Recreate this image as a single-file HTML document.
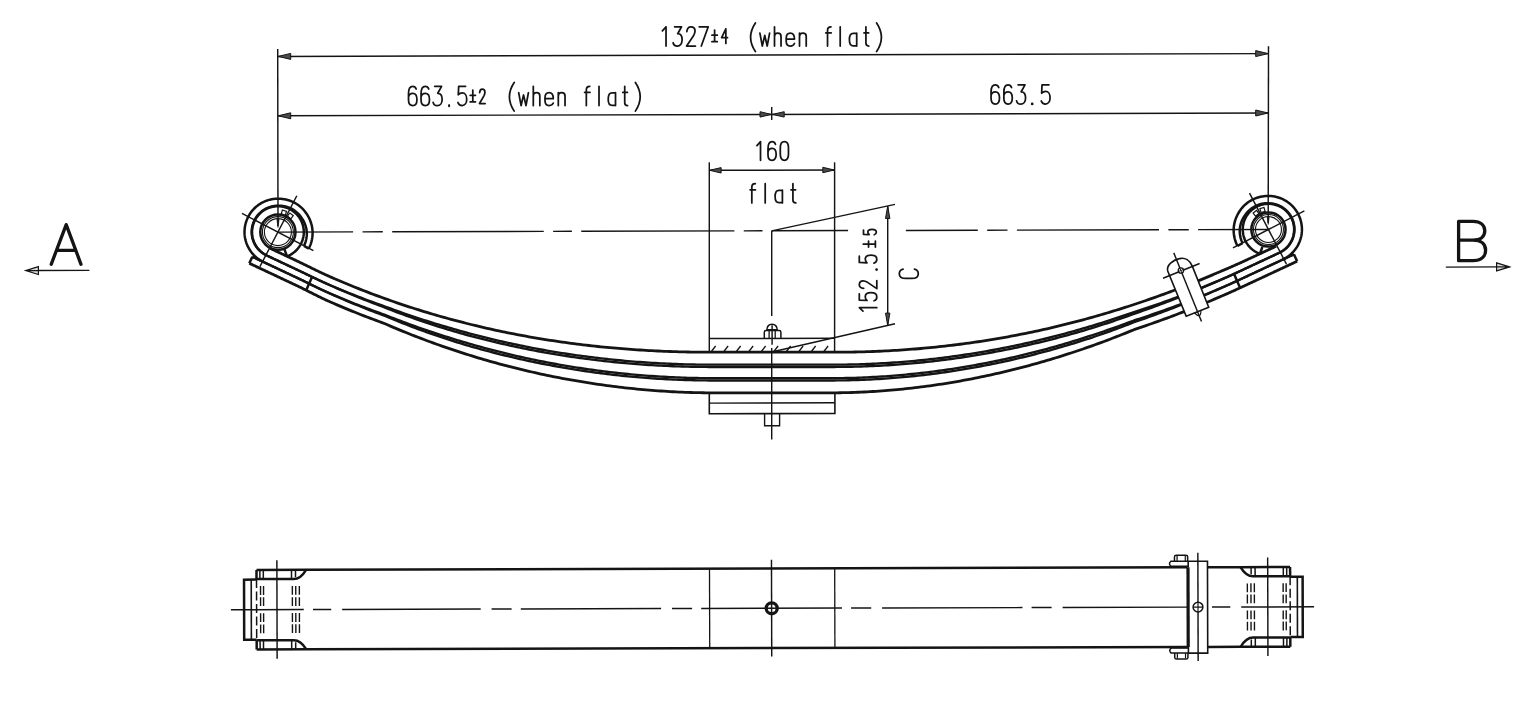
<!DOCTYPE html>
<html lang="en"><head><meta charset="utf-8"><title>Leaf spring drawing</title>
<style>
html,body{margin:0;padding:0;background:#fff;font-family:"Liberation Sans",sans-serif;}
body{width:1536px;height:705px;overflow:hidden;}
svg{display:block;}
</style></head><body>
<svg width="1536" height="705" viewBox="0 0 1536 705" shape-rendering="geometricPrecision">
<rect width="1536" height="705" fill="#ffffff"/>
<g stroke="#141414" fill="none">
<circle cx="277.9" cy="232.1" r="15.5" stroke-width="1.1" fill="none"/>
<circle cx="277.9" cy="232.1" r="13.5" stroke-width="1.1" fill="none"/>
<circle cx="277.9" cy="232.1" r="17.6" stroke-width="2.5" fill="none"/>
<path d="M266.87 255.54 L265.27 254.71 L263.74 253.78 L262.27 252.75 L260.87 251.62 L259.56 250.39 L258.34 249.07 L257.21 247.68 L256.18 246.21 L255.25 244.67 L254.44 243.07 L253.73 241.41 L253.14 239.72 L252.68 237.98 L252.33 236.22 L252.11 234.44 L252.01 232.64 L252.03 230.85 L252.18 229.06 L252.45 227.28 L252.85 225.53 L253.36 223.81 L254 222.13 L254.75 220.49 L255.61 218.92 L256.57 217.4 L257.64 215.96 L258.81 214.59 L260.07 213.31 L261.42 212.12 L262.84 211.03 L264.34 210.03 L265.9 209.15 L267.52 208.37 L269.19 207.71 L270.9 207.16 L272.65 206.74 L274.42 206.44 L276.21 206.26 L278 206.2 L279.8 206.27 L281.58 206.46 L283.35 206.78 L285.09 207.22 L286.8 207.78 L288.47 208.45 L290.08 209.24 L291.63 210.14 L293.12 211.15 L294.54 212.25 L295.88 213.45 L297.12 214.74 L298.28 216.12 L299.34 217.57 L300.3 219.09 L301.14 220.68 L301.88 222.31 L302.5 224 L303 225.72 L303.38 227.48 L303.64 229.26 L303.78 231.05 L303.79 232.85 L303.68 234.64 L303.44 236.42 L303.08 238.18 L302.59 239.91 L301.99 241.6 L301.28 243.25 L300.45 244.84 L299.51 246.38 L298.47 247.84 L297.33 249.23 L296.09 250.53 L294.77 251.75 L293.37 252.87 L291.89 253.9 L290.35 254.81 L288.74 255.62 L287.09 256.32" stroke-width="2.5" fill="none"/>
<path d="M284.28 248.93 L287.09 256.32" stroke-width="2.5" fill="none"/>
<path d="M266.87 255.54 L265.63 254.92 L264.42 254.25 L263.24 253.51 L262.11 252.7 L261.02 251.84 L259.98 250.92 L258.99 249.95 L258.05 248.92 L257.17 247.84 L256.35 246.72 L255.59 245.55 L254.89 244.35 L254.25 243.1 L253.68 241.83 L253.18 240.52 L252.75 239.2 L252.4 237.84 L252.11 236.47 L251.9 235.09 L251.76 233.7 L251.7 232.3 L251.72 230.9 L251.82 229.5 L251.99 228.11 L252.23 226.72 L252.55 225.36 L252.94 224.01 L253.4 222.68 L253.93 221.38 L254.53 220.11 L255.2 218.88 L255.94 217.68 L256.73 216.52 L257.59 215.41 L258.51 214.34 L259.48 213.33 L260.51 212.36 L261.58 211.46 L262.71 210.61 L263.87 209.82 L265.08 209.1 L266.33 208.44 L267.61 207.85 L268.91 207.32 L270.25 206.87 L271.61 206.49 L272.99 206.19 L274.38 205.95 L275.78 205.8 L277.19 205.71 L278.6 205.68 L280.02 205.69 L281.44 205.77 L282.85 205.93 L284.26 206.17 L285.66 206.48 L287.04 206.87 L288.4 207.34 L289.74 207.87 L291.05 208.48 L292.33 209.16 L293.57 209.91 L294.78 210.73 L295.94 211.62 L297.06 212.56 L298.12 213.57 L299.14 214.64 L300.09 215.76 L300.99 216.93 L301.83 218.15 L302.64 219.4 L303.4 220.69 L304.09 222.03 L304.71 223.4 L305.25 224.82 L305.72 226.26 L306.11 227.74 L306.43 229.24 L306.66 230.77 L306.81 232.31 L306.82 233.86 L306.75 235.41 L306.6 236.96 L306.36 238.5 L306.04 240.03 L305.64 241.55 L305.16 243.04 L304.59 244.51 L303.95 245.95" stroke-width="2.5" fill="none"/>
<path d="M263.76 262.14 L262.17 261.35 L260.63 260.48 L259.13 259.52 L257.68 258.48 L256.3 257.37 L254.97 256.19 L253.71 254.93 L252.51 253.61 L251.39 252.23 L250.35 250.79 L249.38 249.29 L248.49 247.75 L247.69 246.16 L246.97 244.53 L246.34 242.86 L245.8 241.16 L245.35 239.43 L245 237.68 L244.74 235.91 L244.57 234.14 L244.5 232.35 L244.54 230.57 L244.67 228.78 L244.89 227.01 L245.21 225.25 L245.62 223.51 L246.13 221.8 L246.72 220.12 L247.41 218.47 L248.18 216.86 L249.04 215.29 L249.98 213.77 L251 212.3 L252.1 210.89 L253.27 209.54 L254.51 208.26 L255.82 207.04 L257.19 205.9 L258.62 204.83 L260.11 203.84 L261.64 202.92 L263.23 202.1 L264.85 201.35 L266.51 200.7 L268.21 200.14 L269.93 199.66 L271.68 199.28 L273.44 199 L275.22 198.81 L277 198.71 L278.79 198.69 L280.58 198.75 L282.36 198.91 L284.14 199.16 L285.9 199.51 L287.64 199.95 L289.36 200.48 L291.04 201.1 L292.7 201.82 L294.31 202.62 L295.89 203.51 L297.41 204.49 L298.88 205.54 L300.29 206.67 L301.65 207.88 L302.93 209.16 L304.15 210.51 L305.3 211.92 L306.37 213.4 L307.36 214.93 L308.29 216.5 L309.13 218.12 L309.89 219.79 L310.56 221.5 L311.14 223.25 L311.63 225.02 L312.02 226.83 L312.31 228.65 L312.51 230.5 L312.6 232.35 L312.57 234.21 L312.44 236.06 L312.21 237.91 L311.89 239.74 L311.46 241.56 L310.94 243.35 L310.32 245.11 L309.61 246.84 L308.8 248.53" stroke-width="2.5" fill="none"/>
<path d="M303.95 245.95 L308.8 248.53" stroke-width="2.5" fill="none"/>
<line x1="241.98" y1="213.4" x2="313.38" y2="250.57" stroke-width="1.45" stroke-linecap="butt"/>
<line x1="296.83" y1="195.73" x2="259.89" y2="266.69" stroke-width="1.45" stroke-linecap="butt"/>
<rect x="281.71" y="210.59" width="4.3" height="4.0" stroke-width="1.2" fill="none" transform="rotate(17 283.86 212.59)"/>
<rect x="288.17" y="213.92" width="4.3" height="4.0" stroke-width="1.2" fill="none" transform="rotate(37.5 290.32 215.92)"/>
<path d="M252.36 256.78 L249.3 263.29" stroke-width="2.5" fill="none"/>
<path d="M312.03 277 L305.88 291.02" stroke-width="2.5" fill="none"/>
<circle cx="1268.45" cy="229.5" r="15" stroke-width="1.1" fill="none"/>
<circle cx="1268.45" cy="229.5" r="13" stroke-width="1.1" fill="none"/>
<circle cx="1268.45" cy="229.5" r="17.1" stroke-width="2.5" fill="none"/>
<path d="M1279.31 252.79 L1280.91 251.98 L1282.44 251.06 L1283.91 250.03 L1285.31 248.9 L1286.62 247.68 L1287.84 246.37 L1288.97 244.98 L1290 243.51 L1290.92 241.97 L1291.74 240.38 L1292.44 238.73 L1293.02 237.03 L1293.49 235.3 L1293.83 233.54 L1294.05 231.76 L1294.15 229.97 L1294.12 228.18 L1293.96 226.4 L1293.68 224.63 L1293.28 222.88 L1292.76 221.16 L1292.12 219.49 L1291.37 217.86 L1290.5 216.3 L1289.52 214.79 L1288.45 213.36 L1287.27 212 L1286.01 210.73 L1284.66 209.56 L1283.23 208.48 L1281.73 207.5 L1280.16 206.62 L1278.54 205.86 L1276.87 205.22 L1275.16 204.69 L1273.41 204.28 L1271.64 204 L1269.86 203.84 L1268.06 203.8 L1266.27 203.89 L1264.49 204.11 L1262.73 204.44 L1261 204.9 L1259.3 205.48 L1257.65 206.18 L1256.05 206.99 L1254.52 207.91 L1253.04 208.93 L1251.65 210.05 L1250.33 211.27 L1249.11 212.58 L1247.97 213.97 L1246.94 215.43 L1246.01 216.97 L1245.19 218.56 L1244.49 220.21 L1243.9 221.9 L1243.43 223.63 L1243.08 225.39 L1242.86 227.17 L1242.76 228.95 L1242.78 230.75 L1242.93 232.53 L1243.2 234.3 L1243.6 236.05 L1244.12 237.77 L1244.75 239.44 L1245.5 241.07 L1246.36 242.64 L1247.33 244.15 L1248.41 245.59 L1249.58 246.94 L1250.84 248.22 L1252.19 249.4 L1253.61 250.48 L1255.11 251.47 L1256.67 252.34 L1258.29 253.11 L1259.96 253.76" stroke-width="2.5" fill="none"/>
<path d="M1262.38 246.87 L1259.96 253.76" stroke-width="2.5" fill="none"/>
<path d="M1279.31 252.79 L1280.55 252.19 L1281.75 251.52 L1282.92 250.79 L1284.05 250 L1285.13 249.14 L1286.17 248.23 L1287.16 247.27 L1288.09 246.25 L1288.97 245.18 L1289.79 244.07 L1290.55 242.92 L1291.25 241.72 L1291.89 240.49 L1292.45 239.23 L1292.95 237.93 L1293.38 236.61 L1293.74 235.27 L1294.03 233.91 L1294.24 232.54 L1294.38 231.15 L1294.45 229.77 L1294.43 228.37 L1294.34 226.98 L1294.18 225.6 L1293.94 224.23 L1293.62 222.87 L1293.24 221.53 L1292.78 220.21 L1292.26 218.92 L1291.67 217.66 L1291 216.43 L1290.28 215.24 L1289.49 214.09 L1288.64 212.98 L1287.73 211.92 L1286.77 210.91 L1285.75 209.95 L1284.68 209.04 L1283.57 208.2 L1282.41 207.42 L1281.21 206.69 L1279.98 206.04 L1278.71 205.45 L1277.41 204.93 L1276.08 204.48 L1274.74 204.1 L1273.37 203.79 L1271.99 203.56 L1270.59 203.4 L1269.19 203.31 L1267.79 203.28 L1266.38 203.28 L1264.98 203.37 L1263.57 203.52 L1262.17 203.76 L1260.78 204.07 L1259.41 204.45 L1258.06 204.91 L1256.73 205.44 L1255.42 206.04 L1254.15 206.72 L1252.92 207.46 L1251.72 208.27 L1250.56 209.15 L1249.45 210.09 L1248.39 211.09 L1247.38 212.14 L1246.43 213.26 L1245.54 214.42 L1244.71 215.64 L1243.89 216.87 L1243.14 218.15 L1242.46 219.48 L1241.84 220.85 L1241.3 222.25 L1240.83 223.69 L1240.44 225.16 L1240.12 226.65 L1239.89 228.17 L1239.74 229.7 L1239.73 231.24 L1239.8 232.78 L1239.95 234.32 L1240.18 235.85 L1240.5 237.37 L1240.9 238.88 L1241.38 240.36 L1241.94 241.82 L1242.58 243.26" stroke-width="2.5" fill="none"/>
<path d="M1282.52 259.68 L1284.12 258.89 L1285.68 258.02 L1287.18 257.06 L1288.64 256.03 L1290.04 254.92 L1291.37 253.73 L1292.64 252.48 L1293.84 251.16 L1294.97 249.77 L1296.03 248.33 L1297 246.83 L1297.9 245.28 L1298.71 243.69 L1299.44 242.05 L1300.07 240.38 L1300.62 238.68 L1301.07 236.94 L1301.43 235.19 L1301.7 233.42 L1301.87 231.63 L1301.95 229.84 L1301.92 228.05 L1301.79 226.26 L1301.57 224.48 L1301.26 222.71 L1300.85 220.97 L1300.34 219.25 L1299.75 217.56 L1299.06 215.9 L1298.29 214.28 L1297.44 212.7 L1296.5 211.18 L1295.47 209.7 L1294.38 208.29 L1293.2 206.93 L1291.96 205.64 L1290.65 204.41 L1289.28 203.26 L1287.84 202.18 L1286.35 201.18 L1284.81 200.27 L1283.22 199.43 L1281.59 198.69 L1279.93 198.03 L1278.23 197.46 L1276.5 196.98 L1274.75 196.6 L1272.98 196.31 L1271.19 196.11 L1269.4 196.01 L1267.61 195.99 L1265.81 196.05 L1264.02 196.2 L1262.24 196.45 L1260.47 196.8 L1258.72 197.24 L1257 197.77 L1255.3 198.4 L1253.64 199.11 L1252.02 199.92 L1250.44 200.81 L1248.91 201.78 L1247.44 202.84 L1246.02 203.98 L1244.66 205.19 L1243.36 206.47 L1242.14 207.82 L1240.99 209.24 L1239.91 210.72 L1238.92 212.26 L1237.99 213.83 L1237.14 215.46 L1236.37 217.14 L1235.7 218.85 L1235.12 220.6 L1234.63 222.39 L1234.23 224.2 L1233.94 226.03 L1233.74 227.88 L1233.65 229.74 L1233.68 231.6 L1233.81 233.46 L1234.04 235.32 L1234.36 237.16 L1234.79 238.98 L1235.32 240.78 L1235.94 242.55 L1236.65 244.28 L1237.46 245.98" stroke-width="2.5" fill="none"/>
<path d="M1242.58 243.26 L1237.46 245.98" stroke-width="2.5" fill="none"/>
<line x1="1304.37" y1="210.8" x2="1232.97" y2="247.97" stroke-width="1.45" stroke-linecap="butt"/>
<line x1="1249.52" y1="193.13" x2="1286.46" y2="264.09" stroke-width="1.45" stroke-linecap="butt"/>
<rect x="1260.34" y="207.99" width="4.3" height="4.0" stroke-width="1.2" fill="none" transform="rotate(-17 1262.49 209.99)"/>
<rect x="1253.88" y="211.32" width="4.3" height="4.0" stroke-width="1.2" fill="none" transform="rotate(-37.5 1256.03 213.32)"/>
<path d="M1293.94 254.36 L1297.15 261.24" stroke-width="2.5" fill="none"/>
<path d="M1234.08 274.1 L1240.48 288.77" stroke-width="2.5" fill="none"/>
<path d="M270.24 248.39 L271.14 248.81 L272.05 249.24 L272.95 249.66 L273.86 250.09 L274.76 250.52 L275.66 250.94 L276.57 251.37 L277.47 251.79 L278.38 252.22 L279.28 252.64 L280.19 253.07 L281.09 253.5 L282 253.92 L282.9 254.35 L283.81 254.77 L284.71 255.2 L285.62 255.63 L286.52 256.05 L287.43 256.48 L288.33 256.9 L289.24 257.33 L290.14 257.75 L291.05 258.18 L291.95 258.61 L292.86 259.03 L293.76 259.46 L294.67 259.88 L295.57 260.31 L296.48 260.73 L297.38 261.16 L298.29 261.59 L299.19 262.02 L300.1 262.46 L301 262.89 L301.9 263.33 L302.81 263.76 L303.71 264.2 L304.62 264.64 L305.52 265.09 L306.43 265.53 L307.33 265.98 L308.24 266.42 L309.14 266.87 L310.05 267.31 L310.95 267.76 L311.86 268.2 L312.76 268.65 L313.67 269.09 L314.57 269.53 L315.48 269.97 L316.38 270.41 L317.29 270.85 L318.19 271.28 L319.1 271.72 L320 272.15 L320.91 272.57 L321.81 273 L322.72 273.42 L323.62 273.84 L324.53 274.25 L325.43 274.67 L326.34 275.08 L327.24 275.48 L328.14 275.89 L329.05 276.29 L329.95 276.69 L331 277.14 L334 278.45 L337 279.74 L340 281.02 L343 282.29 L346 283.54 L349 284.78 L352 286 L355 287.21 L358 288.41 L361 289.6 L364 290.77 L367 291.93 L370 293.07 L373 294.21 L376 295.33 L379 296.43 L382 297.53 L385 298.61 L388 299.68 L391 300.74 L394 301.78 L397 302.81 L400 303.83 L403 304.84 L406 305.83 L409 306.82 L412 307.79 L415 308.75 L418 309.69 L421 310.63 L424 311.55 L427 312.46 L430 313.36 L433 314.25 L436 315.12 L439 315.98 L442 316.84 L445 317.68 L448 318.51 L451 319.32 L454 320.13 L457 320.93 L460 321.71 L463 322.48 L466 323.25 L469 324 L472 324.74 L475 325.46 L478 326.18 L481 326.89 L484 327.59 L487 328.27 L490 328.95 L493 329.61 L496 330.26 L499 330.91 L502 331.54 L505 332.16 L508 332.77 L511 333.37 L514 333.96 L517 334.54 L520 335.11 L523 335.67 L526 336.22 L529 336.76 L532 337.29 L535 337.81 L538 338.32 L541 338.82 L544 339.31 L547 339.79 L550 340.26 L553 340.72 L556 341.17 L559 341.61 L562 342.05 L565 342.47 L568 342.88 L571 343.28 L574 343.68 L577 344.06 L580 344.44 L583 344.8 L586 345.16 L589 345.5 L592 345.84 L595 346.17 L598 346.49 L601 346.8 L604 347.1 L607 347.39 L610 347.68 L613 347.95 L616 348.22 L619 348.47 L622 348.72 L625 348.96 L628 349.19 L631 349.41 L634 349.62 L637 349.83 L640 350.02 L643 350.21 L646 350.39 L649 350.56 L652 350.72 L655 350.87 L658 351.02 L661 351.15 L664 351.28 L667 351.4 L670 351.51 L673 351.61 L676 351.7 L679 351.79 L682 351.87 L685 351.94 L688 352 L691 352.05 L694 352.1 L697 352.13 L700 352.16 L703 352.18 L706 352.2 L709 352.2 L712 352.2 L715 352.2 L718 352.2 L721 352.2 L724 352.2 L727 352.2 L730 352.2 L733 352.2 L736 352.2 L739 352.2 L742 352.2 L745 352.2 L748 352.2 L751 352.2 L754 352.2 L757 352.2 L760 352.2 L763 352.2 L766 352.2 L769 352.2 L772 352.2 L771 352.2 L774 352.2 L777 352.2 L780 352.2 L783 352.2 L786 352.2 L789 352.2 L792 352.2 L795 352.2 L798 352.2 L801 352.2 L804 352.2 L807 352.2 L810 352.2 L813 352.2 L816 352.2 L819 352.2 L822 352.2 L825 352.2 L828 352.2 L831 352.2 L834 352.2 L837 352.2 L840 352.19 L843 352.17 L846 352.14 L849 352.1 L852 352.05 L855 352 L858 351.93 L861 351.86 L864 351.78 L867 351.69 L870 351.59 L873 351.48 L876 351.36 L879 351.23 L882 351.1 L885 350.95 L888 350.8 L891 350.63 L894 350.46 L897 350.28 L900 350.08 L903 349.88 L906 349.67 L909 349.45 L912 349.22 L915 348.98 L918 348.73 L921 348.48 L924 348.21 L927 347.93 L930 347.65 L933 347.35 L936 347.04 L939 346.73 L942 346.4 L945 346.07 L948 345.73 L951 345.37 L954 345.01 L957 344.63 L960 344.25 L963 343.86 L966 343.45 L969 343.04 L972 342.62 L975 342.18 L978 341.74 L981 341.29 L984 340.83 L987 340.35 L990 339.87 L993 339.38 L996 338.87 L999 338.36 L1002 337.84 L1005 337.3 L1008 336.76 L1011 336.21 L1014 335.64 L1017 335.07 L1020 334.48 L1023 333.89 L1026 333.29 L1029 332.67 L1032 332.04 L1035 331.41 L1038 330.76 L1041 330.11 L1044 329.44 L1047 328.76 L1050 328.07 L1053 327.38 L1056 326.67 L1059 325.95 L1062 325.22 L1065 324.48 L1068 323.73 L1071 322.97 L1074 322.2 L1077 321.41 L1080 320.62 L1083 319.82 L1086 319 L1089 318.18 L1092 317.34 L1095 316.5 L1098 315.64 L1101 314.77 L1104 313.9 L1107 313.01 L1110 312.11 L1113 311.2 L1116 310.28 L1119 309.35 L1122 308.4 L1125 307.45 L1128 306.49 L1131 305.51 L1134 304.53 L1137 303.53 L1140 302.52 L1143 301.51 L1146 300.48 L1149 299.44 L1152 298.39 L1155 297.33 L1158 296.25 L1161 295.17 L1164 294.08 L1167 292.97 L1170 291.86 L1173 290.73 L1176 289.59 L1179 288.45 L1182 287.29 L1185 286.12 L1188 284.94 L1191 283.74 L1194 282.54 L1197 281.33 L1200 280.1 L1203 278.86 L1206 277.62 L1209 276.36 L1212 275.09 L1215 273.81 L1216.41 273.21 L1217.32 272.82 L1218.22 272.43 L1219.13 272.05 L1220.04 271.67 L1220.94 271.28 L1221.85 270.9 L1222.75 270.52 L1223.66 270.14 L1224.57 269.75 L1225.47 269.37 L1226.38 268.98 L1227.29 268.59 L1228.19 268.21 L1229.1 267.81 L1230 267.42 L1230.91 267.03 L1231.82 266.63 L1232.72 266.24 L1233.63 265.84 L1234.54 265.44 L1235.44 265.04 L1236.35 264.63 L1237.25 264.23 L1238.16 263.82 L1239.07 263.42 L1239.97 263.01 L1240.88 262.6 L1241.79 262.19 L1242.69 261.77 L1243.6 261.36 L1244.51 260.94 L1245.41 260.53 L1246.32 260.11 L1247.22 259.69 L1248.13 259.27 L1249.04 258.85 L1249.94 258.43 L1250.85 258.01 L1251.76 257.59 L1252.66 257.16 L1253.57 256.74 L1254.47 256.32 L1255.38 255.9 L1256.29 255.47 L1257.19 255.05 L1258.1 254.63 L1259.01 254.21 L1259.91 253.78 L1260.82 253.36 L1261.73 252.94 L1262.63 252.52 L1263.54 252.09 L1264.44 251.67 L1265.35 251.25 L1266.26 250.82 L1267.16 250.4 L1268.07 249.98 L1268.98 249.56 L1269.88 249.13 L1270.79 248.71 L1271.69 248.29 L1272.6 247.87 L1273.51 247.44 L1274.41 247.02 L1275.32 246.6 L1276.23 246.18" stroke-width="2.8" fill="none" stroke-linejoin="round"/>
<path d="M266.87 255.54 L267.78 255.96 L268.68 256.39 L269.59 256.81 L270.49 257.24 L271.4 257.66 L272.3 258.09 L273.21 258.52 L274.11 258.94 L275.02 259.37 L275.92 259.79 L276.83 260.22 L277.73 260.64 L278.64 261.07 L279.54 261.5 L280.44 261.92 L281.35 262.35 L282.25 262.77 L283.16 263.2 L284.06 263.62 L284.97 264.05 L285.87 264.48 L286.78 264.9 L287.68 265.33 L288.59 265.75 L289.49 266.18 L290.4 266.61 L291.3 267.03 L292.21 267.46 L293.11 267.88 L294.02 268.31 L294.92 268.73 L295.83 269.16 L296.73 269.59 L297.64 270.01 L298.54 270.44 L299.45 270.87 L300.35 271.3 L301.26 271.73 L302.16 272.16 L303.07 272.59 L303.97 273.02 L304.88 273.45 L305.78 273.88 L306.68 274.32 L307.59 274.75 L308.49 275.18 L309.4 275.62 L310.3 276.05 L311.21 276.48 L312.11 276.91 L313.02 277.34 L313.92 277.77 L314.83 278.2 L315.73 278.63 L316.64 279.05 L317.54 279.47 L318.45 279.89 L319.35 280.31 L320.26 280.73 L321.16 281.14 L322.07 281.55 L322.97 281.96 L323.88 282.37 L324.78 282.77 L325.69 283.17 L326.59 283.57 L327.5 283.97 L328.4 284.37 L329.31 284.76 L331 285.49 L334 286.78 L337 288.05 L340 289.31 L343 290.55 L346 291.78 L349 293 L352 294.19 L355 295.38 L358 296.55 L361 297.71 L364 298.85 L367 299.98 L370 301.1 L373 302.2 L376 303.29 L379 304.37 L382 305.43 L385 306.5 L388 307.62 L391 308.72 L394 309.81 L397 310.88 L400 311.95 L403 313 L406 314.04 L409 315.07 L412 316.08 L415 317.08 L418 318.08 L421 319.06 L424 320.02 L427 320.98 L430 321.93 L433 322.86 L436 323.79 L439 324.7 L442 325.6 L445 326.5 L448 327.38 L451 328.25 L454 329.11 L457 329.96 L460 330.8 L463 331.63 L466 332.46 L469 333.27 L472 334.07 L475 334.86 L478 335.64 L481 336.41 L484 337.17 L487 337.92 L490 338.65 L493 339.37 L496 340.09 L499 340.79 L502 341.48 L505 342.16 L508 342.83 L511 343.49 L514 344.13 L517 344.77 L520 345.39 L523 346.01 L526 346.61 L529 347.21 L532 347.79 L535 348.36 L538 348.92 L541 349.47 L544 350.02 L547 350.55 L550 351.07 L553 351.58 L556 352.08 L559 352.56 L562 353.04 L565 353.51 L568 353.97 L571 354.42 L574 354.86 L577 355.29 L580 355.71 L583 356.12 L586 356.52 L589 356.9 L592 357.28 L595 357.65 L598 358.01 L601 358.36 L604 358.7 L607 359.03 L610 359.36 L613 359.67 L616 359.97 L619 360.26 L622 360.54 L625 360.82 L628 361.08 L631 361.33 L634 361.58 L637 361.81 L640 362.04 L643 362.26 L646 362.46 L649 362.66 L652 362.85 L655 363.03 L658 363.2 L661 363.36 L664 363.51 L667 363.65 L670 363.78 L673 363.91 L676 364.02 L679 364.12 L682 364.22 L685 364.31 L688 364.38 L691 364.45 L694 364.51 L697 364.56 L700 364.59 L703 364.62 L706 364.64 L709 364.65 L712 364.65 L715 364.65 L718 364.65 L721 364.65 L724 364.65 L727 364.65 L730 364.65 L733 364.65 L736 364.65 L739 364.65 L742 364.65 L745 364.65 L748 364.65 L751 364.65 L754 364.65 L757 364.65 L760 364.65 L763 364.65 L766 364.65 L769 364.65 L772 364.65 L771 364.65 L774 364.65 L777 364.65 L780 364.65 L783 364.65 L786 364.65 L789 364.65 L792 364.65 L795 364.65 L798 364.65 L801 364.65 L804 364.65 L807 364.65 L810 364.65 L813 364.65 L816 364.65 L819 364.65 L822 364.65 L825 364.65 L828 364.65 L831 364.65 L834 364.65 L837 364.64 L840 364.63 L843 364.6 L846 364.56 L849 364.51 L852 364.45 L855 364.38 L858 364.3 L861 364.2 L864 364.1 L867 363.99 L870 363.87 L873 363.74 L876 363.59 L879 363.44 L882 363.28 L885 363.1 L888 362.92 L891 362.73 L894 362.52 L897 362.31 L900 362.08 L903 361.85 L906 361.6 L909 361.35 L912 361.08 L915 360.81 L918 360.52 L921 360.22 L924 359.92 L927 359.6 L930 359.27 L933 358.94 L936 358.59 L939 358.23 L942 357.86 L945 357.48 L948 357.09 L951 356.69 L954 356.28 L957 355.86 L960 355.42 L963 354.98 L966 354.53 L969 354.07 L972 353.59 L975 353.11 L978 352.61 L981 352.1 L984 351.59 L987 351.06 L990 350.52 L993 349.97 L996 349.41 L999 348.84 L1002 348.26 L1005 347.67 L1008 347.07 L1011 346.46 L1014 345.83 L1017 345.2 L1020 344.55 L1023 343.89 L1026 343.23 L1029 342.55 L1032 341.86 L1035 341.16 L1038 340.45 L1041 339.72 L1044 338.99 L1047 338.25 L1050 337.49 L1053 336.73 L1056 335.95 L1059 335.16 L1062 334.36 L1065 333.55 L1068 332.73 L1071 331.9 L1074 331.06 L1077 330.2 L1080 329.34 L1083 328.46 L1086 327.58 L1089 326.68 L1092 325.78 L1095 324.87 L1098 323.94 L1101 323.01 L1104 322.07 L1107 321.12 L1110 320.16 L1113 319.19 L1116 318.21 L1119 317.22 L1122 316.22 L1125 315.21 L1128 314.19 L1131 313.16 L1134 312.12 L1137 311.13 L1140 310.15 L1143 309.16 L1146 308.16 L1149 307.15 L1152 306.13 L1155 305.1 L1158 304.06 L1161 303.01 L1164 301.94 L1167 300.87 L1170 299.78 L1173 298.69 L1176 297.58 L1179 296.46 L1182 295.33 L1185 294.19 L1188 293.04 L1191 291.87 L1194 290.7 L1197 289.51 L1200 288.31 L1203 287.1 L1206 285.88 L1209 284.64 L1212 283.39 L1215 282.13 L1216.78 281.38 L1217.68 281 L1218.59 280.62 L1219.49 280.24 L1220.4 279.85 L1221.31 279.47 L1222.21 279.08 L1223.12 278.69 L1224.03 278.3 L1224.93 277.91 L1225.84 277.52 L1226.75 277.12 L1227.65 276.73 L1228.56 276.33 L1229.46 275.92 L1230.37 275.52 L1231.28 275.11 L1232.18 274.71 L1233.09 274.3 L1234 273.88 L1234.9 273.47 L1235.81 273.06 L1236.71 272.64 L1237.62 272.22 L1238.53 271.8 L1239.43 271.38 L1240.34 270.96 L1241.25 270.54 L1242.15 270.12 L1243.06 269.7 L1243.97 269.28 L1244.87 268.85 L1245.78 268.43 L1246.68 268.01 L1247.59 267.58 L1248.5 267.16 L1249.4 266.74 L1250.31 266.32 L1251.22 265.89 L1252.12 265.47 L1253.03 265.05 L1253.93 264.63 L1254.84 264.2 L1255.75 263.78 L1256.65 263.36 L1257.56 262.93 L1258.47 262.51 L1259.37 262.09 L1260.28 261.67 L1261.19 261.24 L1262.09 260.82 L1263 260.4 L1263.9 259.98 L1264.81 259.55 L1265.72 259.13 L1266.62 258.71 L1267.53 258.29 L1268.44 257.86 L1269.34 257.44 L1270.25 257.02 L1271.15 256.6 L1272.06 256.17 L1272.97 255.75 L1273.87 255.33 L1274.78 254.91 L1275.69 254.48 L1276.59 254.06 L1277.5 253.64 L1278.4 253.21 L1279.31 252.79" stroke-width="2.35" fill="none" stroke-linejoin="round"/>
<path d="M266.87 255.54 L267.78 255.96 L268.68 256.39 L269.59 256.81 L270.49 257.24 L271.4 257.66 L272.3 258.09 L273.21 258.52 L274.11 258.94 L275.02 259.37 L275.92 259.79 L276.83 260.22 L277.73 260.64 L278.64 261.07 L279.54 261.5 L280.44 261.92 L281.35 262.35 L282.25 262.77 L283.16 263.2 L284.06 263.62 L284.97 264.05 L285.87 264.48 L286.78 264.9 L287.68 265.33 L288.59 265.75 L289.49 266.18 L290.4 266.61 L291.3 267.03 L292.21 267.46 L293.11 267.88 L294.02 268.31 L294.92 268.73 L295.83 269.16 L296.73 269.59 L297.64 270.01 L298.54 270.44 L299.45 270.87 L300.35 271.3 L301.26 271.73 L302.16 272.16 L303.07 272.59 L303.97 273.02 L304.88 273.46 L305.78 273.89 L306.68 274.33 L307.59 274.76 L308.49 275.2 L309.4 275.64 L310.3 276.07 L311.21 276.51 L312.11 276.95 L313.02 277.38 L313.92 277.82 L314.83 278.25 L315.73 278.68 L316.64 279.11 L317.54 279.54 L318.45 279.97 L319.35 280.4 L320.26 280.82 L321.16 281.24 L322.07 281.66 L322.97 282.08 L323.88 282.49 L324.78 282.91 L325.69 283.32 L326.59 283.72 L327.5 284.13 L328.4 284.54 L329.31 284.94 L331 285.7 L334 287.02 L337 288.33 L340 289.63 L343 290.92 L346 292.2 L349 293.46 L352 294.71 L355 295.95 L358 297.17 L361 298.38 L364 299.59 L367 300.77 L370 301.95 L373 303.11 L376 304.26 L379 305.4 L382 306.52 L385 307.65 L388 308.83 L391 309.99 L394 311.14 L397 312.28 L400 313.4 L403 314.51 L406 315.61 L409 316.69 L412 317.76 L415 318.82 L418 319.86 L421 320.89 L424 321.91 L427 322.91 L430 323.91 L433 324.88 L436 325.85 L439 326.8 L442 327.74 L445 328.66 L448 329.57 L451 330.47 L454 331.35 L457 332.22 L460 333.08 L463 333.92 L466 334.75 L469 335.57 L472 336.37 L475 337.16 L478 337.94 L481 338.71 L484 339.47 L487 340.22 L490 340.95 L493 341.67 L496 342.39 L499 343.09 L502 343.78 L505 344.46 L508 345.13 L511 345.79 L514 346.43 L517 347.07 L520 347.69 L523 348.31 L526 348.91 L529 349.51 L532 350.09 L535 350.66 L538 351.22 L541 351.77 L544 352.32 L547 352.85 L550 353.37 L553 353.88 L556 354.38 L559 354.86 L562 355.34 L565 355.81 L568 356.27 L571 356.72 L574 357.16 L577 357.59 L580 358.01 L583 358.42 L586 358.82 L589 359.2 L592 359.58 L595 359.95 L598 360.31 L601 360.66 L604 361 L607 361.33 L610 361.66 L613 361.97 L616 362.27 L619 362.56 L622 362.84 L625 363.12 L628 363.38 L631 363.63 L634 363.88 L637 364.11 L640 364.34 L643 364.56 L646 364.76 L649 364.96 L652 365.15 L655 365.33 L658 365.5 L661 365.66 L664 365.81 L667 365.95 L670 366.08 L673 366.21 L676 366.32 L679 366.42 L682 366.52 L685 366.61 L688 366.68 L691 366.75 L694 366.81 L697 366.86 L700 366.89 L703 366.92 L706 366.94 L709 366.95 L712 366.95 L715 366.95 L718 366.95 L721 366.95 L724 366.95 L727 366.95 L730 366.95 L733 366.95 L736 366.95 L739 366.95 L742 366.95 L745 366.95 L748 366.95 L751 366.95 L754 366.95 L757 366.95 L760 366.95 L763 366.95 L766 366.95 L769 366.95 L772 366.95 L771 366.95 L774 366.95 L777 366.95 L780 366.95 L783 366.95 L786 366.95 L789 366.95 L792 366.95 L795 366.95 L798 366.95 L801 366.95 L804 366.95 L807 366.95 L810 366.95 L813 366.95 L816 366.95 L819 366.95 L822 366.95 L825 366.95 L828 366.95 L831 366.95 L834 366.95 L837 366.94 L840 366.93 L843 366.9 L846 366.86 L849 366.81 L852 366.75 L855 366.68 L858 366.6 L861 366.5 L864 366.4 L867 366.29 L870 366.17 L873 366.04 L876 365.89 L879 365.74 L882 365.58 L885 365.4 L888 365.22 L891 365.03 L894 364.82 L897 364.61 L900 364.38 L903 364.15 L906 363.9 L909 363.65 L912 363.38 L915 363.11 L918 362.82 L921 362.52 L924 362.22 L927 361.9 L930 361.57 L933 361.24 L936 360.89 L939 360.53 L942 360.16 L945 359.78 L948 359.39 L951 358.99 L954 358.58 L957 358.16 L960 357.72 L963 357.28 L966 356.83 L969 356.37 L972 355.89 L975 355.41 L978 354.91 L981 354.4 L984 353.89 L987 353.36 L990 352.82 L993 352.27 L996 351.71 L999 351.14 L1002 350.56 L1005 349.97 L1008 349.37 L1011 348.76 L1014 348.13 L1017 347.5 L1020 346.85 L1023 346.19 L1026 345.53 L1029 344.85 L1032 344.16 L1035 343.46 L1038 342.75 L1041 342.02 L1044 341.29 L1047 340.55 L1050 339.79 L1053 339.03 L1056 338.25 L1059 337.46 L1062 336.66 L1065 335.85 L1068 335.03 L1071 334.2 L1074 333.36 L1077 332.5 L1080 331.64 L1083 330.76 L1086 329.87 L1089 328.96 L1092 328.05 L1095 327.12 L1098 326.17 L1101 325.22 L1104 324.25 L1107 323.27 L1110 322.27 L1113 321.27 L1116 320.25 L1119 319.21 L1122 318.17 L1125 317.11 L1128 316.04 L1131 314.96 L1134 313.87 L1137 312.83 L1140 311.8 L1143 310.75 L1146 309.69 L1149 308.62 L1152 307.54 L1155 306.45 L1158 305.35 L1161 304.24 L1164 303.11 L1167 301.98 L1170 300.83 L1173 299.68 L1176 298.51 L1179 297.33 L1182 296.14 L1185 294.94 L1188 293.73 L1191 292.51 L1194 291.28 L1197 290.04 L1200 288.79 L1203 287.53 L1206 286.26 L1209 284.98 L1212 283.69 L1215 282.39 L1216.78 281.61 L1217.68 281.22 L1218.59 280.82 L1219.49 280.43 L1220.4 280.04 L1221.31 279.64 L1222.21 279.24 L1223.12 278.85 L1224.03 278.45 L1224.93 278.05 L1225.84 277.64 L1226.75 277.24 L1227.65 276.83 L1228.56 276.43 L1229.46 276.02 L1230.37 275.6 L1231.28 275.19 L1232.18 274.78 L1233.09 274.36 L1234 273.94 L1234.9 273.52 L1235.81 273.1 L1236.71 272.68 L1237.62 272.26 L1238.53 271.83 L1239.43 271.41 L1240.34 270.98 L1241.25 270.56 L1242.15 270.13 L1243.06 269.71 L1243.97 269.28 L1244.87 268.86 L1245.78 268.43 L1246.68 268.01 L1247.59 267.59 L1248.5 267.16 L1249.4 266.74 L1250.31 266.32 L1251.22 265.89 L1252.12 265.47 L1253.03 265.05 L1253.93 264.63 L1254.84 264.2 L1255.75 263.78 L1256.65 263.36 L1257.56 262.93 L1258.47 262.51 L1259.37 262.09 L1260.28 261.67 L1261.19 261.24 L1262.09 260.82 L1263 260.4 L1263.9 259.98 L1264.81 259.55 L1265.72 259.13 L1266.62 258.71 L1267.53 258.29 L1268.44 257.86 L1269.34 257.44 L1270.25 257.02 L1271.15 256.6 L1272.06 256.17 L1272.97 255.75 L1273.87 255.33 L1274.78 254.91 L1275.69 254.48 L1276.59 254.06 L1277.5 253.64 L1278.4 253.21 L1279.31 252.79" stroke-width="2.35" fill="none" stroke-linejoin="round"/>
<path d="M252.36 256.78 L253.27 257.2 L254.17 257.63 L255.08 258.05 L255.98 258.48 L256.89 258.9 L257.79 259.33 L258.7 259.76 L259.6 260.18 L260.51 260.61 L261.41 261.03 L262.32 261.46 L263.22 261.88 L264.13 262.31 L265.03 262.74 L265.94 263.16 L266.84 263.59 L267.75 264.01 L268.65 264.44 L269.56 264.87 L270.46 265.29 L271.36 265.72 L272.27 266.14 L273.17 266.57 L274.08 266.99 L274.98 267.42 L275.89 267.85 L276.79 268.27 L277.7 268.7 L278.6 269.12 L279.51 269.55 L280.41 269.97 L281.32 270.4 L282.22 270.83 L283.13 271.25 L284.03 271.68 L284.94 272.1 L285.84 272.53 L286.75 272.96 L287.65 273.38 L288.56 273.81 L289.46 274.23 L290.37 274.66 L291.27 275.08 L292.18 275.51 L293.08 275.94 L293.99 276.36 L294.89 276.79 L295.8 277.21 L296.7 277.64 L297.6 278.07 L298.51 278.5 L299.41 278.93 L300.32 279.36 L301.22 279.8 L302.13 280.23 L303.03 280.67 L303.94 281.11 L304.84 281.55 L305.75 281.99 L306.65 282.43 L307.56 282.88 L308.46 283.32 L309.37 283.77 L310.27 284.21 L311.18 284.65 L312.08 285.09 L312.99 285.54 L313.89 285.98 L314.8 286.42 L315.7 286.85 L316.61 287.29 L317.51 287.72 L318.42 288.15 L319.32 288.58 L320.23 289.01 L321.13 289.43 L322.03 289.85 L322.94 290.27 L323.84 290.68 L324.75 291.09 L325.65 291.5 L326.56 291.9 L327.46 292.3 L328.37 292.7 L329.27 293.1 L331 293.84 L334 295.13 L337 296.4 L340 297.66 L343 298.9 L346 300.13 L349 301.35 L352 302.54 L355 303.73 L358 304.9 L361 306.06 L364 307.2 L367 308.33 L370 309.45 L373 310.55 L376 311.64 L379 312.72 L382 313.78 L385 314.87 L388 316.06 L391 317.24 L394 318.4 L397 319.55 L400 320.69 L403 321.82 L406 322.93 L409 324.03 L412 325.12 L415 326.19 L418 327.25 L421 328.3 L424 329.34 L427 330.37 L430 331.39 L433 332.39 L436 333.38 L439 334.37 L442 335.34 L445 336.3 L448 337.24 L451 338.18 L454 339.11 L457 340.03 L460 340.93 L463 341.83 L466 342.72 L469 343.59 L472 344.46 L475 345.31 L478 346.16 L481 346.99 L484 347.8 L487 348.61 L490 349.41 L493 350.19 L496 350.96 L499 351.72 L502 352.47 L505 353.21 L508 353.93 L511 354.65 L514 355.35 L517 356.04 L520 356.73 L523 357.39 L526 358.05 L529 358.7 L532 359.34 L535 359.96 L538 360.57 L541 361.18 L544 361.77 L547 362.35 L550 362.92 L553 363.48 L556 364.03 L559 364.57 L562 365.09 L565 365.61 L568 366.11 L571 366.61 L574 367.09 L577 367.57 L580 368.03 L583 368.48 L586 368.92 L589 369.35 L592 369.78 L595 370.19 L598 370.59 L601 370.98 L604 371.35 L607 371.72 L610 372.08 L613 372.43 L616 372.77 L619 373.1 L622 373.41 L625 373.72 L628 374.02 L631 374.31 L634 374.58 L637 374.85 L640 375.1 L643 375.35 L646 375.59 L649 375.81 L652 376.03 L655 376.23 L658 376.43 L661 376.61 L664 376.79 L667 376.95 L670 377.11 L673 377.25 L676 377.39 L679 377.51 L682 377.62 L685 377.72 L688 377.82 L691 377.9 L694 377.97 L697 378.03 L700 378.08 L703 378.11 L706 378.14 L709 378.15 L712 378.15 L715 378.15 L718 378.15 L721 378.15 L724 378.15 L727 378.15 L730 378.15 L733 378.15 L736 378.15 L739 378.15 L742 378.15 L745 378.15 L748 378.15 L751 378.15 L754 378.15 L757 378.15 L760 378.15 L763 378.15 L766 378.15 L769 378.15 L772 378.15 L771 378.15 L774 378.15 L777 378.15 L780 378.15 L783 378.15 L786 378.15 L789 378.15 L792 378.15 L795 378.15 L798 378.15 L801 378.15 L804 378.15 L807 378.15 L810 378.15 L813 378.15 L816 378.15 L819 378.15 L822 378.15 L825 378.15 L828 378.15 L831 378.15 L834 378.15 L837 378.14 L840 378.12 L843 378.08 L846 378.03 L849 377.97 L852 377.89 L855 377.81 L858 377.71 L861 377.6 L864 377.48 L867 377.34 L870 377.2 L873 377.04 L876 376.88 L879 376.7 L882 376.51 L885 376.31 L888 376.09 L891 375.87 L894 375.64 L897 375.39 L900 375.13 L903 374.86 L906 374.59 L909 374.29 L912 373.99 L915 373.68 L918 373.36 L921 373.02 L924 372.68 L927 372.32 L930 371.95 L933 371.57 L936 371.18 L939 370.78 L942 370.36 L945 369.94 L948 369.5 L951 369.06 L954 368.6 L957 368.13 L960 367.65 L963 367.16 L966 366.65 L969 366.14 L972 365.61 L975 365.08 L978 364.53 L981 363.97 L984 363.4 L987 362.82 L990 362.22 L993 361.62 L996 361 L999 360.38 L1002 359.74 L1005 359.09 L1008 358.43 L1011 357.75 L1014 357.07 L1017 356.37 L1020 355.67 L1023 354.95 L1026 354.22 L1029 353.48 L1032 352.72 L1035 351.96 L1038 351.18 L1041 350.39 L1044 349.59 L1047 348.78 L1050 347.96 L1053 347.13 L1056 346.28 L1059 345.43 L1062 344.56 L1065 343.68 L1068 342.78 L1071 341.88 L1074 340.97 L1077 340.04 L1080 339.1 L1083 338.15 L1086 337.19 L1089 336.23 L1092 335.25 L1095 334.26 L1098 333.26 L1101 332.25 L1104 331.24 L1107 330.21 L1110 329.17 L1113 328.12 L1116 327.06 L1119 325.99 L1122 324.91 L1125 323.82 L1128 322.72 L1131 321.61 L1134 320.48 L1137 319.48 L1140 318.5 L1143 317.51 L1146 316.51 L1149 315.5 L1152 314.48 L1155 313.45 L1158 312.41 L1161 311.36 L1164 310.29 L1167 309.22 L1170 308.13 L1173 307.04 L1176 305.93 L1179 304.81 L1182 303.68 L1185 302.54 L1188 301.39 L1191 300.22 L1194 299.05 L1197 297.86 L1200 296.66 L1203 295.45 L1206 294.23 L1209 292.99 L1212 291.74 L1215 290.48 L1216 290.06 L1216.91 289.68 L1217.81 289.3 L1218.72 288.91 L1219.63 288.53 L1220.53 288.15 L1221.44 287.76 L1222.34 287.38 L1223.25 286.99 L1224.16 286.6 L1225.06 286.21 L1225.97 285.82 L1226.88 285.42 L1227.78 285.03 L1228.69 284.63 L1229.59 284.23 L1230.5 283.83 L1231.41 283.42 L1232.31 283.01 L1233.22 282.6 L1234.13 282.19 L1235.03 281.78 L1235.94 281.37 L1236.85 280.95 L1237.75 280.54 L1238.66 280.12 L1239.56 279.7 L1240.47 279.28 L1241.38 278.86 L1242.28 278.44 L1243.19 278.02 L1244.1 277.6 L1245 277.18 L1245.91 276.75 L1246.81 276.33 L1247.72 275.91 L1248.63 275.49 L1249.53 275.06 L1250.44 274.64 L1251.35 274.22 L1252.25 273.8 L1253.16 273.37 L1254.07 272.95 L1254.97 272.53 L1255.88 272.11 L1256.78 271.68 L1257.69 271.26 L1258.6 270.84 L1259.5 270.41 L1260.41 269.99 L1261.32 269.57 L1262.22 269.15 L1263.13 268.72 L1264.03 268.3 L1264.94 267.88 L1265.85 267.46 L1266.75 267.03 L1267.66 266.61 L1268.57 266.19 L1269.47 265.77 L1270.38 265.34 L1271.28 264.92 L1272.19 264.5 L1273.1 264.08 L1274 263.65 L1274.91 263.23 L1275.82 262.81 L1276.72 262.38 L1277.63 261.96 L1278.54 261.54 L1279.44 261.12 L1280.35 260.69 L1281.25 260.27 L1282.16 259.85 L1283.07 259.43 L1283.97 259 L1284.88 258.58 L1285.79 258.16 L1286.69 257.74 L1287.6 257.31 L1288.5 256.89 L1289.41 256.47 L1290.32 256.05 L1291.22 255.62 L1292.13 255.2 L1293.04 254.78 L1293.94 254.36" stroke-width="2.35" fill="none" stroke-linejoin="round"/>
<path d="M252.36 256.78 L253.27 257.2 L254.17 257.63 L255.08 258.05 L255.98 258.48 L256.89 258.9 L257.79 259.33 L258.7 259.76 L259.6 260.18 L260.51 260.61 L261.41 261.03 L262.32 261.46 L263.22 261.88 L264.13 262.31 L265.03 262.74 L265.94 263.16 L266.84 263.59 L267.75 264.01 L268.65 264.44 L269.56 264.87 L270.46 265.29 L271.36 265.72 L272.27 266.14 L273.17 266.57 L274.08 266.99 L274.98 267.42 L275.89 267.85 L276.79 268.27 L277.7 268.7 L278.6 269.12 L279.51 269.55 L280.41 269.97 L281.32 270.4 L282.22 270.83 L283.13 271.25 L284.03 271.68 L284.94 272.1 L285.84 272.53 L286.75 272.96 L287.65 273.38 L288.56 273.81 L289.46 274.23 L290.37 274.66 L291.27 275.08 L292.18 275.51 L293.08 275.94 L293.99 276.36 L294.89 276.79 L295.8 277.21 L296.7 277.64 L297.6 278.07 L298.51 278.5 L299.41 278.93 L300.32 279.36 L301.22 279.8 L302.13 280.23 L303.03 280.67 L303.94 281.11 L304.84 281.56 L305.75 282 L306.65 282.44 L307.56 282.89 L308.46 283.34 L309.37 283.79 L310.27 284.23 L311.18 284.68 L312.08 285.13 L312.99 285.57 L313.89 286.02 L314.8 286.47 L315.7 286.91 L316.61 287.35 L317.51 287.79 L318.42 288.23 L319.32 288.66 L320.23 289.1 L321.13 289.53 L322.03 289.96 L322.94 290.38 L323.84 290.8 L324.75 291.22 L325.65 291.64 L326.56 292.05 L327.46 292.46 L328.37 292.87 L329.27 293.28 L331 294.05 L334 295.37 L337 296.68 L340 297.98 L343 299.27 L346 300.55 L349 301.81 L352 303.06 L355 304.3 L358 305.52 L361 306.73 L364 307.94 L367 309.12 L370 310.3 L373 311.46 L376 312.61 L379 313.75 L382 314.87 L385 316.02 L388 317.27 L391 318.51 L394 319.73 L397 320.94 L400 322.14 L403 323.33 L406 324.5 L409 325.65 L412 326.79 L415 327.92 L418 329.04 L421 330.14 L424 331.23 L427 332.3 L430 333.36 L433 334.41 L436 335.44 L439 336.46 L442 337.47 L445 338.46 L448 339.44 L451 340.4 L454 341.35 L457 342.29 L460 343.21 L463 344.12 L466 345.01 L469 345.89 L472 346.76 L475 347.61 L478 348.46 L481 349.29 L484 350.1 L487 350.91 L490 351.71 L493 352.49 L496 353.26 L499 354.02 L502 354.77 L505 355.51 L508 356.23 L511 356.95 L514 357.65 L517 358.34 L520 359.03 L523 359.69 L526 360.35 L529 361 L532 361.64 L535 362.26 L538 362.87 L541 363.48 L544 364.07 L547 364.65 L550 365.22 L553 365.78 L556 366.33 L559 366.87 L562 367.39 L565 367.91 L568 368.41 L571 368.91 L574 369.39 L577 369.87 L580 370.33 L583 370.78 L586 371.22 L589 371.65 L592 372.08 L595 372.49 L598 372.89 L601 373.28 L604 373.65 L607 374.02 L610 374.38 L613 374.73 L616 375.07 L619 375.4 L622 375.71 L625 376.02 L628 376.32 L631 376.61 L634 376.88 L637 377.15 L640 377.4 L643 377.65 L646 377.89 L649 378.11 L652 378.33 L655 378.53 L658 378.73 L661 378.91 L664 379.09 L667 379.25 L670 379.41 L673 379.55 L676 379.69 L679 379.81 L682 379.92 L685 380.02 L688 380.12 L691 380.2 L694 380.27 L697 380.33 L700 380.38 L703 380.41 L706 380.44 L709 380.45 L712 380.45 L715 380.45 L718 380.45 L721 380.45 L724 380.45 L727 380.45 L730 380.45 L733 380.45 L736 380.45 L739 380.45 L742 380.45 L745 380.45 L748 380.45 L751 380.45 L754 380.45 L757 380.45 L760 380.45 L763 380.45 L766 380.45 L769 380.45 L772 380.45 L771 380.45 L774 380.45 L777 380.45 L780 380.45 L783 380.45 L786 380.45 L789 380.45 L792 380.45 L795 380.45 L798 380.45 L801 380.45 L804 380.45 L807 380.45 L810 380.45 L813 380.45 L816 380.45 L819 380.45 L822 380.45 L825 380.45 L828 380.45 L831 380.45 L834 380.45 L837 380.44 L840 380.42 L843 380.38 L846 380.33 L849 380.27 L852 380.19 L855 380.11 L858 380.01 L861 379.9 L864 379.78 L867 379.64 L870 379.5 L873 379.34 L876 379.18 L879 379 L882 378.81 L885 378.61 L888 378.39 L891 378.17 L894 377.94 L897 377.69 L900 377.43 L903 377.16 L906 376.89 L909 376.59 L912 376.29 L915 375.98 L918 375.66 L921 375.32 L924 374.98 L927 374.62 L930 374.25 L933 373.87 L936 373.48 L939 373.08 L942 372.66 L945 372.24 L948 371.8 L951 371.36 L954 370.9 L957 370.43 L960 369.95 L963 369.46 L966 368.95 L969 368.44 L972 367.91 L975 367.38 L978 366.83 L981 366.27 L984 365.7 L987 365.12 L990 364.52 L993 363.92 L996 363.3 L999 362.68 L1002 362.04 L1005 361.39 L1008 360.73 L1011 360.05 L1014 359.37 L1017 358.67 L1020 357.97 L1023 357.25 L1026 356.52 L1029 355.78 L1032 355.02 L1035 354.26 L1038 353.48 L1041 352.69 L1044 351.89 L1047 351.08 L1050 350.26 L1053 349.43 L1056 348.58 L1059 347.73 L1062 346.86 L1065 345.98 L1068 345.08 L1071 344.18 L1074 343.27 L1077 342.34 L1080 341.4 L1083 340.45 L1086 339.49 L1089 338.51 L1092 337.52 L1095 336.51 L1098 335.49 L1101 334.46 L1104 333.41 L1107 332.35 L1110 331.28 L1113 330.2 L1116 329.1 L1119 327.99 L1122 326.86 L1125 325.72 L1128 324.57 L1131 323.41 L1134 322.24 L1137 321.18 L1140 320.15 L1143 319.1 L1146 318.04 L1149 316.97 L1152 315.89 L1155 314.8 L1158 313.7 L1161 312.59 L1164 311.46 L1167 310.33 L1170 309.18 L1173 308.03 L1176 306.86 L1179 305.68 L1182 304.49 L1185 303.29 L1188 302.08 L1191 300.86 L1194 299.63 L1197 298.39 L1200 297.14 L1203 295.88 L1206 294.61 L1209 293.33 L1212 292.04 L1215 290.74 L1216 290.3 L1216.91 289.91 L1217.81 289.51 L1218.72 289.12 L1219.63 288.72 L1220.53 288.33 L1221.44 287.94 L1222.34 287.54 L1223.25 287.14 L1224.16 286.75 L1225.06 286.35 L1225.97 285.94 L1226.88 285.54 L1227.78 285.14 L1228.69 284.73 L1229.59 284.32 L1230.5 283.91 L1231.41 283.5 L1232.31 283.08 L1233.22 282.67 L1234.13 282.25 L1235.03 281.83 L1235.94 281.41 L1236.85 280.99 L1237.75 280.57 L1238.66 280.15 L1239.56 279.73 L1240.47 279.3 L1241.38 278.88 L1242.28 278.45 L1243.19 278.03 L1244.1 277.61 L1245 277.18 L1245.91 276.76 L1246.81 276.33 L1247.72 275.91 L1248.63 275.49 L1249.53 275.06 L1250.44 274.64 L1251.35 274.22 L1252.25 273.8 L1253.16 273.37 L1254.07 272.95 L1254.97 272.53 L1255.88 272.11 L1256.78 271.68 L1257.69 271.26 L1258.6 270.84 L1259.5 270.41 L1260.41 269.99 L1261.32 269.57 L1262.22 269.15 L1263.13 268.72 L1264.03 268.3 L1264.94 267.88 L1265.85 267.46 L1266.75 267.03 L1267.66 266.61 L1268.57 266.19 L1269.47 265.77 L1270.38 265.34 L1271.28 264.92 L1272.19 264.5 L1273.1 264.08 L1274 263.65 L1274.91 263.23 L1275.82 262.81 L1276.72 262.38 L1277.63 261.96 L1278.54 261.54 L1279.44 261.12 L1280.35 260.69 L1281.25 260.27 L1282.16 259.85 L1283.07 259.43 L1283.97 259 L1284.88 258.58 L1285.79 258.16 L1286.69 257.74 L1287.6 257.31 L1288.5 256.89 L1289.41 256.47 L1290.32 256.05 L1291.22 255.62 L1292.13 255.2 L1293.04 254.78 L1293.94 254.36" stroke-width="2.35" fill="none" stroke-linejoin="round"/>
<path d="M249.3 263.29 L250.2 263.72 L251.11 264.14 L252.01 264.57 L252.92 264.99 L253.82 265.42 L254.73 265.84 L255.63 266.27 L256.54 266.7 L257.44 267.12 L258.35 267.55 L259.25 267.97 L260.16 268.4 L261.06 268.83 L261.97 269.25 L262.87 269.68 L263.77 270.1 L264.68 270.53 L265.58 270.95 L266.49 271.38 L267.39 271.81 L268.3 272.23 L269.2 272.66 L270.11 273.08 L271.01 273.51 L271.92 273.93 L272.82 274.36 L273.73 274.79 L274.63 275.21 L275.54 275.64 L276.44 276.06 L277.35 276.49 L278.25 276.92 L279.16 277.34 L280.06 277.77 L280.97 278.19 L281.87 278.62 L282.78 279.04 L283.68 279.47 L284.59 279.9 L285.49 280.32 L286.4 280.75 L287.3 281.17 L288.21 281.6 L289.11 282.02 L290.01 282.45 L290.92 282.88 L291.82 283.3 L292.73 283.73 L293.63 284.15 L294.54 284.58 L295.44 285 L296.35 285.43 L297.25 285.86 L298.16 286.29 L299.06 286.73 L299.97 287.16 L300.87 287.6 L301.78 288.05 L302.68 288.49 L303.59 288.94 L304.49 289.39 L305.4 289.85 L306.3 290.3 L307.21 290.76 L308.11 291.21 L309.02 291.67 L309.92 292.13 L310.83 292.59 L311.73 293.05 L312.64 293.51 L313.54 293.96 L314.45 294.42 L315.35 294.87 L316.25 295.33 L317.16 295.78 L318.06 296.23 L318.97 296.67 L319.87 297.11 L320.78 297.55 L321.68 297.99 L322.59 298.42 L323.49 298.85 L324.4 299.27 L325.3 299.69 L326.21 300.11 L327.11 300.52 L328.02 300.93 L328.92 301.33 L329.83 301.73 L331 302.24 L334 303.55 L337 304.84 L340 306.12 L343 307.39 L346 308.64 L349 309.88 L352 311.1 L355 312.31 L358 313.51 L361 314.7 L364 315.87 L367 317.03 L370 318.17 L373 319.31 L376 320.43 L379 321.53 L382 322.63 L385 323.76 L388 325.06 L391 326.34 L394 327.61 L397 328.87 L400 330.11 L403 331.34 L406 332.56 L409 333.76 L412 334.95 L415 336.12 L418 337.28 L421 338.43 L424 339.56 L427 340.69 L430 341.8 L433 342.89 L436 343.97 L439 345.04 L442 346.1 L445 347.14 L448 348.17 L451 349.19 L454 350.2 L457 351.19 L460 352.17 L463 353.14 L466 354.09 L469 355.03 L472 355.96 L475 356.88 L478 357.79 L481 358.68 L484 359.56 L487 360.43 L490 361.29 L493 362.13 L496 362.96 L499 363.78 L502 364.59 L505 365.38 L508 366.17 L511 366.94 L514 367.7 L517 368.45 L520 369.19 L523 369.91 L526 370.62 L529 371.32 L532 372.01 L535 372.69 L538 373.36 L541 374.01 L544 374.66 L547 375.29 L550 375.91 L553 376.52 L556 377.12 L559 377.7 L562 378.28 L565 378.84 L568 379.39 L571 379.93 L574 380.46 L577 380.98 L580 381.49 L583 381.99 L586 382.47 L589 382.94 L592 383.41 L595 383.86 L598 384.3 L601 384.73 L604 385.15 L607 385.56 L610 385.95 L613 386.34 L616 386.71 L619 387.08 L622 387.43 L625 387.77 L628 388.1 L631 388.42 L634 388.73 L637 389.03 L640 389.32 L643 389.59 L646 389.86 L649 390.11 L652 390.35 L655 390.59 L658 390.81 L661 391.02 L664 391.22 L667 391.4 L670 391.58 L673 391.75 L676 391.9 L679 392.04 L682 392.17 L685 392.29 L688 392.4 L691 392.5 L694 392.58 L697 392.65 L700 392.71 L703 392.75 L706 392.79 L709 392.8 L712 392.8 L715 392.8 L718 392.8 L721 392.8 L724 392.8 L727 392.8 L730 392.8 L733 392.8 L736 392.8 L739 392.8 L742 392.8 L745 392.8 L748 392.8 L751 392.8 L754 392.8 L757 392.8 L760 392.8 L763 392.8 L766 392.8 L769 392.8 L772 392.8 L771 392.8 L774 392.8 L777 392.8 L780 392.8 L783 392.8 L786 392.8 L789 392.8 L792 392.8 L795 392.8 L798 392.8 L801 392.8 L804 392.8 L807 392.8 L810 392.8 L813 392.8 L816 392.8 L819 392.8 L822 392.8 L825 392.8 L828 392.8 L831 392.8 L834 392.8 L837 392.79 L840 392.76 L843 392.72 L846 392.65 L849 392.58 L852 392.49 L855 392.39 L858 392.27 L861 392.14 L864 392 L867 391.85 L870 391.68 L873 391.5 L876 391.31 L879 391.1 L882 390.89 L885 390.66 L888 390.42 L891 390.16 L894 389.9 L897 389.62 L900 389.33 L903 389.03 L906 388.71 L909 388.39 L912 388.05 L915 387.7 L918 387.34 L921 386.96 L924 386.58 L927 386.18 L930 385.77 L933 385.35 L936 384.91 L939 384.47 L942 384.01 L945 383.54 L948 383.06 L951 382.56 L954 382.06 L957 381.54 L960 381.01 L963 380.47 L966 379.92 L969 379.35 L972 378.77 L975 378.19 L978 377.58 L981 376.97 L984 376.35 L987 375.71 L990 375.06 L993 374.4 L996 373.73 L999 373.04 L1002 372.34 L1005 371.63 L1008 370.91 L1011 370.18 L1014 369.43 L1017 368.68 L1020 367.91 L1023 367.13 L1026 366.33 L1029 365.53 L1032 364.71 L1035 363.88 L1038 363.04 L1041 362.19 L1044 361.32 L1047 360.44 L1050 359.55 L1053 358.65 L1056 357.73 L1059 356.81 L1062 355.87 L1065 354.92 L1068 353.95 L1071 352.98 L1074 351.99 L1077 350.99 L1080 349.98 L1083 348.96 L1086 347.92 L1089 346.87 L1092 345.81 L1095 344.74 L1098 343.65 L1101 342.56 L1104 341.45 L1107 340.32 L1110 339.19 L1113 338.04 L1116 336.89 L1119 335.72 L1122 334.53 L1125 333.34 L1128 332.13 L1131 330.91 L1134 329.68 L1137 328.63 L1140 327.62 L1143 326.61 L1146 325.58 L1149 324.54 L1152 323.49 L1155 322.43 L1158 321.35 L1161 320.27 L1164 319.18 L1167 318.07 L1170 316.96 L1173 315.83 L1176 314.69 L1179 313.55 L1182 312.39 L1185 311.22 L1188 310.04 L1191 308.84 L1194 307.64 L1197 306.43 L1200 305.2 L1203 303.96 L1206 302.72 L1209 301.46 L1212 300.19 L1215 298.91 L1216.49 298.27 L1217.4 297.88 L1218.31 297.49 L1219.21 297.11 L1220.12 296.72 L1221.02 296.33 L1221.93 295.94 L1222.84 295.55 L1223.74 295.16 L1224.65 294.77 L1225.56 294.38 L1226.46 293.98 L1227.37 293.59 L1228.28 293.19 L1229.18 292.79 L1230.09 292.38 L1230.99 291.98 L1231.9 291.57 L1232.81 291.17 L1233.71 290.76 L1234.62 290.35 L1235.53 289.93 L1236.43 289.52 L1237.34 289.1 L1238.24 288.69 L1239.15 288.27 L1240.06 287.85 L1240.96 287.43 L1241.87 287.01 L1242.78 286.59 L1243.68 286.17 L1244.59 285.75 L1245.5 285.33 L1246.4 284.91 L1247.31 284.49 L1248.21 284.06 L1249.12 283.64 L1250.03 283.22 L1250.93 282.8 L1251.84 282.37 L1252.75 281.95 L1253.65 281.53 L1254.56 281.11 L1255.46 280.68 L1256.37 280.26 L1257.28 279.84 L1258.18 279.42 L1259.09 278.99 L1260 278.57 L1260.9 278.15 L1261.81 277.73 L1262.71 277.3 L1263.62 276.88 L1264.53 276.46 L1265.43 276.03 L1266.34 275.61 L1267.25 275.19 L1268.15 274.77 L1269.06 274.34 L1269.97 273.92 L1270.87 273.5 L1271.78 273.08 L1272.68 272.65 L1273.59 272.23 L1274.5 271.81 L1275.4 271.39 L1276.31 270.96 L1277.22 270.54 L1278.12 270.12 L1279.03 269.7 L1279.93 269.27 L1280.84 268.85 L1281.75 268.43 L1282.65 268 L1283.56 267.58 L1284.47 267.16 L1285.37 266.74 L1286.28 266.31 L1287.19 265.89 L1288.09 265.47 L1289 265.05 L1289.9 264.62 L1290.81 264.2 L1291.72 263.78 L1292.62 263.36 L1293.53 262.93 L1294.44 262.51 L1295.34 262.09 L1296.25 261.67 L1297.15 261.24" stroke-width="2.8" fill="none" stroke-linejoin="round"/>
<line x1="709.3" y1="162.3" x2="709.3" y2="352.2" stroke-width="1.45" stroke-linecap="butt"/>
<line x1="834.6" y1="162.3" x2="834.6" y2="352.2" stroke-width="1.45" stroke-linecap="butt"/>
<line x1="709.3" y1="338.5" x2="834.6" y2="338.3" stroke-width="1.45" stroke-linecap="butt"/>
<line x1="711" y1="352" x2="715.6" y2="346" stroke-width="1.3" stroke-linecap="butt"/>
<line x1="723.5" y1="352" x2="728.1" y2="346" stroke-width="1.3" stroke-linecap="butt"/>
<line x1="736" y1="352" x2="740.6" y2="346" stroke-width="1.3" stroke-linecap="butt"/>
<line x1="748.5" y1="352" x2="753.1" y2="346" stroke-width="1.3" stroke-linecap="butt"/>
<line x1="761" y1="352" x2="765.6" y2="346" stroke-width="1.3" stroke-linecap="butt"/>
<line x1="773.5" y1="352" x2="778.1" y2="346" stroke-width="1.3" stroke-linecap="butt"/>
<line x1="786" y1="352" x2="790.6" y2="346" stroke-width="1.3" stroke-linecap="butt"/>
<line x1="798.5" y1="352" x2="803.1" y2="346" stroke-width="1.3" stroke-linecap="butt"/>
<line x1="811" y1="352" x2="815.6" y2="346" stroke-width="1.3" stroke-linecap="butt"/>
<line x1="823.5" y1="352" x2="828.1" y2="346" stroke-width="1.3" stroke-linecap="butt"/>
<path d="M709.3 393 L709.3 413.7 L834.9 413.5 L834.9 393" stroke-width="1.6" fill="none"/>
<line x1="709.3" y1="403.1" x2="834.9" y2="402.8" stroke-width="1.45" stroke-linecap="butt"/>
<path d="M764.3 338.5 L764.3 332.2 Q764.3 330.6 766 330.6 L779.2 330.6 Q780.9 330.6 780.9 332.2 L780.9 338.5" stroke-width="1.5" fill="none"/>
<path d="M766.8 330.6 Q766.9 324.3 772 324.3 Q777.2 324.3 777.3 330.6" stroke-width="1.5" fill="none"/>
<line x1="766.8" y1="329.6" x2="777.3" y2="329.6" stroke-width="1.2" stroke-linecap="butt"/>
<line x1="769.1" y1="329.6" x2="769.1" y2="338.5" stroke-width="1.3" stroke-linecap="butt"/>
<line x1="775.2" y1="329.6" x2="775.2" y2="338.5" stroke-width="1.3" stroke-linecap="butt"/>
<path d="M764.6 413.6 L764.6 425.7 L779.6 425.7 L779.6 413.6" stroke-width="1.4" fill="none"/>
<line x1="771.7" y1="230.9" x2="771.7" y2="316" stroke-width="1.45" stroke-linecap="butt"/>
<line x1="772.1" y1="325.2" x2="772.1" y2="344.7" stroke-width="1.45" stroke-linecap="butt"/>
<line x1="771.7" y1="348" x2="771.7" y2="439.5" stroke-width="1.45" stroke-linecap="butt"/>
<line x1="277.9" y1="232.1" x2="353.1" y2="231.9" stroke-width="1.45" stroke-linecap="butt"/>
<line x1="362.5" y1="231.87" x2="382.8" y2="231.82" stroke-width="1.45" stroke-linecap="butt"/>
<line x1="392.2" y1="231.79" x2="543.75" y2="231.39" stroke-width="1.45" stroke-linecap="butt"/>
<line x1="553.1" y1="231.36" x2="571.9" y2="231.31" stroke-width="1.45" stroke-linecap="butt"/>
<line x1="581.25" y1="231.29" x2="734.4" y2="230.88" stroke-width="1.45" stroke-linecap="butt"/>
<line x1="743.75" y1="230.85" x2="762.5" y2="230.8" stroke-width="1.45" stroke-linecap="butt"/>
<line x1="771.7" y1="230.78" x2="848.1" y2="230.57" stroke-width="1.45" stroke-linecap="butt"/>
<line x1="905.9" y1="230.42" x2="977.8" y2="230.23" stroke-width="1.45" stroke-linecap="butt"/>
<line x1="987.2" y1="230.2" x2="1007.5" y2="230.15" stroke-width="1.45" stroke-linecap="butt"/>
<line x1="1016.9" y1="230.12" x2="1159" y2="229.74" stroke-width="1.45" stroke-linecap="butt"/>
<line x1="1168.4" y1="229.72" x2="1188.75" y2="229.66" stroke-width="1.45" stroke-linecap="butt"/>
<line x1="1198.1" y1="229.64" x2="1268.45" y2="229.45" stroke-width="1.45" stroke-linecap="butt"/>
<path d="M1186.26 316.33 L1167.72 270.97 C1166.3 265.07 1172.93 260.13 1179.34 258.62 C1185.12 256.93 1189.96 260.37 1192.4 266.39 L1208.7 307.26 Z" stroke-width="1.6" fill="#fff"/>
<line x1="1173.78" y1="252.88" x2="1201.5" y2="321.5" stroke-width="1.45" stroke-linecap="butt"/>
<line x1="1163.01" y1="278.27" x2="1199.63" y2="263.47" stroke-width="1.45" stroke-linecap="butt"/>
<circle cx="1180.9" cy="270.5" r="2.7" stroke-width="1.3" fill="#fff"/>
<line x1="1178.4" y1="271.5" x2="1183.4" y2="269.5" stroke-width="0.9" stroke-linecap="butt"/>
<line x1="1179.93" y1="268.09" x2="1181.87" y2="272.91" stroke-width="0.9" stroke-linecap="butt"/>
<path d="M1194.6 312.96 Q1200.94 319.57 1200.91 310.41" stroke-width="1.2" fill="none"/>
<line x1="277.7" y1="49" x2="278" y2="226" stroke-width="1.45" stroke-linecap="butt"/>
<path d="M276.9 219.5 L279.1 219.5 L278 227.5 Z" stroke-width="0.6" fill="#141414"/>
<line x1="1268.5" y1="46.3" x2="1268.2" y2="223" stroke-width="1.45" stroke-linecap="butt"/>
<path d="M1267.1 216.5 L1269.3 216.5 L1268.2 224.5 Z" stroke-width="0.6" fill="#141414"/>
<line x1="278" y1="56.4" x2="1268.3" y2="53.6" stroke-width="1.45" stroke-linecap="butt"/>
<path d="M278.2 56.4 L290.7 53.4 L290.7 59.4 Z" fill="#4a4a4a" stroke-width="1.0" stroke-linejoin="round"/>
<path d="M1268.2 53.6 L1255.7 56.6 L1255.7 50.6 Z" fill="#4a4a4a" stroke-width="1.0" stroke-linejoin="round"/>
<line x1="278" y1="115.8" x2="1268.3" y2="113" stroke-width="1.45" stroke-linecap="butt"/>
<path d="M278.2 115.8 L290.7 112.8 L290.7 118.8 Z" fill="#4a4a4a" stroke-width="1.0" stroke-linejoin="round"/>
<path d="M1268.2 113 L1255.7 116 L1255.7 110 Z" fill="#4a4a4a" stroke-width="1.0" stroke-linejoin="round"/>
<path d="M771.3 114.4 L760 117.1 L760 111.7 Z" fill="#4a4a4a" stroke-width="1.0" stroke-linejoin="round"/>
<path d="M772.4 114.4 L784.2 111.7 L784.2 117.1 Z" fill="#4a4a4a" stroke-width="1.0" stroke-linejoin="round"/>
<line x1="771.7" y1="107" x2="771.7" y2="120" stroke-width="1.45" stroke-linecap="butt"/>
<line x1="709.3" y1="170.3" x2="834.6" y2="170" stroke-width="1.45" stroke-linecap="butt"/>
<path d="M709.6 170.3 L721.1 167.6 L721.1 173 Z" fill="#4a4a4a" stroke-width="1.0" stroke-linejoin="round"/>
<path d="M834.3 170 L822.8 172.7 L822.8 167.3 Z" fill="#4a4a4a" stroke-width="1.0" stroke-linejoin="round"/>
<line x1="771.7" y1="230.9" x2="895" y2="204.4" stroke-width="1.45" stroke-linecap="butt"/>
<line x1="771.7" y1="352" x2="895" y2="323.8" stroke-width="1.45" stroke-linecap="butt"/>
<line x1="887.7" y1="206.5" x2="887.7" y2="326" stroke-width="1.45" stroke-linecap="butt"/>
<path d="M887.7 206 L889.9 218.5 L885.5 218.5 Z" fill="#4a4a4a" stroke-width="1.0" stroke-linejoin="round"/>
<path d="M887.7 325.6 L885.5 313.1 L889.9 313.1 Z" fill="#4a4a4a" stroke-width="1.0" stroke-linejoin="round"/>
<path d="M51.2 264.3 L66.2 224.6 L81.0 264.3 M57.6 250.4 L75.6 250.4" stroke-width="3.3" fill="none" stroke-linecap="round" stroke-linejoin="round"/>
<line x1="36" y1="270.5" x2="89.4" y2="270.3" stroke-width="1.3" stroke-linecap="butt"/>
<path d="M25.6 270.6 L38.4 266.6 L38.4 274.5 Z M25.6 270.6 L38.4 270.6" stroke-width="1.2" fill="#ddd"/>
<path d="M1458.6 221.4 L1458.6 260.7 L1473 260.7 C1481 260.7 1485.6 256.5 1485.6 250.2 C1485.6 244 1481 240.2 1473 240.2 L1458.6 240.2 M1473 240.2 C1480.5 240.2 1484.8 236.6 1484.8 230.8 C1484.8 225 1480.5 221.4 1473 221.4 L1458.6 221.4" stroke-width="3.3" fill="none" stroke-linecap="round" stroke-linejoin="round"/>
<line x1="1445.8" y1="267.1" x2="1498" y2="266.9" stroke-width="1.3" stroke-linecap="butt"/>
<path d="M1509.6 266.9 L1496.6 262.9 L1496.6 270.9 Z M1509.6 266.9 L1496.6 266.9" stroke-width="1.2" fill="#ddd"/>
<path d="M662.38 30.83L666.03 26.8L666.03 46 M674.64 26.8L681.55 26.8L677.71 33.71C680.78 33.71 682.12 36.4 682.12 39.86C682.12 43.7 680.01 46 677.32 46C675.02 46 673.48 44.85 673.1 42.74 M686.79 31.6C687.18 28.34 688.9 26.8 690.82 26.8C693.13 26.8 695.05 28.34 695.05 31.02C695.05 32.94 694.28 34.48 693.51 35.82L686.6 46L695.43 46 M699.2 26.8L708.22 26.8L701.31 46" stroke-width="1.75" fill="none" stroke-linecap="round" stroke-linejoin="round"/>
<path d="M714.6 30.11L714.6 41.71 M711.95 35.19L717.25 35.19 M711.95 41.71L717.25 41.71 M725.85 28.95L721.6 37.65L727.52 37.65 M725.85 28.95L725.85 43.45" stroke-width="1.75" fill="none" stroke-linecap="round" stroke-linejoin="round"/>
<path d="M755.4 22.96Q745.8 37.26 755.4 51.57 M759.9 33.19L762.3 46L764.75 35.44L767.2 46L769.6 33.19 M774.5 26.8L774.5 46 M774.5 36.4C774.5 34.1 776.04 33.19 777.76 33.19C779.68 33.19 781.03 34.1 781.03 36.4L781.03 46 M786.2 39.09L794.46 39.09C794.46 35.25 792.92 33.19 790.33 33.19C787.74 33.19 786.2 35.25 786.2 38.32L786.2 41.2C786.2 44.08 787.74 46 790.33 46C792.34 46 793.88 45.04 794.46 43.5 M799.5 33.19L799.5 46 M799.5 36.4C799.5 34.1 801.04 33.19 802.86 33.19C804.88 33.19 806.22 34.1 806.22 36.4L806.22 46 M830.98 26.8C828.68 26.8 827.53 27.76 827.53 30.26L827.53 46 M825.8 32.94L831.18 32.94 M840.2 26.8L840.2 46 M856.7 33.19L856.7 46 M856.7 33.42L853.24 33.42C850.74 33.42 849.4 36.4 849.4 39.66C849.4 43.12 850.74 45.81 853.24 45.81L856.7 45.81 M865.92 26.8L865.92 43.12C865.92 45.04 866.88 46 868.8 46 M864 32.94L868.61 32.94 M876.6 22.96Q886.2 37.26 876.6 51.57" stroke-width="1.75" fill="none" stroke-linecap="round" stroke-linejoin="round"/>
<path d="M416.18 89.04C415.6 87.31 414.26 86.35 412.72 86.35C410.04 86.35 408.5 89.23 408.5 93.65L408.5 99.79C408.5 103.25 410.04 105.55 412.72 105.55C415.41 105.55 416.95 103.25 416.95 99.41C416.95 95.57 415.41 93.26 412.72 93.26C410.42 93.26 408.88 94.8 408.5 97.1 M428.73 89.04C428.15 87.31 426.81 86.35 425.27 86.35C422.59 86.35 421.05 89.23 421.05 93.65L421.05 99.79C421.05 103.25 422.59 105.55 425.27 105.55C427.96 105.55 429.5 103.25 429.5 99.41C429.5 95.57 427.96 93.26 425.27 93.26C422.97 93.26 421.43 94.8 421.05 97.1 M434.69 86.35L441.6 86.35L437.76 93.26C440.83 93.26 442.17 95.95 442.17 99.41C442.17 103.25 440.06 105.55 437.37 105.55C435.07 105.55 433.53 104.4 433.15 102.29 M465.58 86.35L458.67 86.35L458.28 94.8C459.44 93.45 460.78 92.88 462.32 92.88C465 92.88 466.73 95.57 466.73 99.21C466.73 103.05 464.81 105.55 462.12 105.55C459.82 105.55 458.48 104.4 457.9 102.48" stroke-width="1.75" fill="none" stroke-linecap="round" stroke-linejoin="round"/>
<ellipse cx="449.1" cy="105.7" rx="1.05" ry="1.6" fill="#141414" stroke="none"/>
<path d="M472.8 90.21L472.8 101.81 M470.15 95.28L475.45 95.28 M470.15 101.81L475.45 101.81 M479.62 92.67C479.87 90.21 480.98 89.05 482.21 89.05C483.69 89.05 484.92 90.21 484.92 92.24C484.92 93.69 484.43 94.85 483.94 95.86L479.5 103.55L485.17 103.55" stroke-width="1.75" fill="none" stroke-linecap="round" stroke-linejoin="round"/>
<path d="M514.2 82.51Q504.6 96.81 514.2 111.12 M518.7 92.74L521.1 105.55L523.55 94.99L526 105.55L528.4 92.74 M533.3 86.35L533.3 105.55 M533.3 95.95C533.3 93.65 534.84 92.74 536.56 92.74C538.48 92.74 539.83 93.65 539.83 95.95L539.83 105.55 M545 98.64L553.26 98.64C553.26 94.8 551.72 92.74 549.13 92.74C546.54 92.74 545 94.8 545 97.87L545 100.75C545 103.63 546.54 105.55 549.13 105.55C551.14 105.55 552.68 104.59 553.26 103.05 M558.3 92.74L558.3 105.55 M558.3 95.95C558.3 93.65 559.84 92.74 561.66 92.74C563.68 92.74 565.02 93.65 565.02 95.95L565.02 105.55 M589.78 86.35C587.48 86.35 586.33 87.31 586.33 89.81L586.33 105.55 M584.6 92.49L589.98 92.49 M599 86.35L599 105.55 M615.5 92.74L615.5 105.55 M615.5 92.97L612.04 92.97C609.54 92.97 608.2 95.95 608.2 99.21C608.2 102.67 609.54 105.36 612.04 105.36L615.5 105.36 M624.72 86.35L624.72 102.67C624.72 104.59 625.68 105.55 627.6 105.55 M622.8 92.49L627.41 92.49 M635.4 82.51Q645 96.81 635.4 111.12" stroke-width="1.75" fill="none" stroke-linecap="round" stroke-linejoin="round"/>
<path d="M998.73 87.54C998.15 85.81 996.81 84.85 995.27 84.85C992.59 84.85 991.05 87.73 991.05 92.15L991.05 98.29C991.05 101.75 992.59 104.05 995.27 104.05C997.96 104.05 999.5 101.75 999.5 97.91C999.5 94.07 997.96 91.76 995.27 91.76C992.97 91.76 991.43 93.3 991.05 95.6 M1011.53 87.54C1010.95 85.81 1009.61 84.85 1008.07 84.85C1005.39 84.85 1003.85 87.73 1003.85 92.15L1003.85 98.29C1003.85 101.75 1005.39 104.05 1008.07 104.05C1010.76 104.05 1012.3 101.75 1012.3 97.91C1012.3 94.07 1010.76 91.76 1008.07 91.76C1005.77 91.76 1004.23 93.3 1003.85 95.6 M1018.09 84.85L1025 84.85L1021.16 91.76C1024.23 91.76 1025.57 94.45 1025.57 97.91C1025.57 101.75 1023.46 104.05 1020.77 104.05C1018.47 104.05 1016.93 102.9 1016.55 100.79 M1048.93 84.85L1042.02 84.85L1041.63 93.3C1042.79 91.95 1044.13 91.38 1045.67 91.38C1048.35 91.38 1050.08 94.07 1050.08 97.71C1050.08 101.55 1048.16 104.05 1045.47 104.05C1043.17 104.05 1041.83 102.9 1041.25 100.98" stroke-width="1.75" fill="none" stroke-linecap="round" stroke-linejoin="round"/>
<circle cx="1032.2" cy="103.9" r="1.4" fill="#141414" stroke="none"/>
<path d="M756.97 145.61L760.51 141.7L760.51 160.3 M775.44 144.3C774.88 142.63 773.58 141.7 772.09 141.7C769.49 141.7 768 144.49 768 148.77L768 154.72C768 158.07 769.49 160.3 772.09 160.3C774.7 160.3 776.18 158.07 776.18 154.35C776.18 150.63 774.7 148.4 772.09 148.4C769.86 148.4 768.37 149.88 768 152.12 M784.39 141.7C781.79 141.7 780.3 144.3 780.3 148.02L780.3 153.98C780.3 157.7 781.79 160.3 784.39 160.3C787 160.3 788.48 157.7 788.48 153.98L788.48 148.02C788.48 144.3 787 141.7 784.39 141.7Z" stroke-width="1.75" fill="none" stroke-linecap="round" stroke-linejoin="round"/>
<path d="M755.28 183.7C752.98 183.7 751.83 184.66 751.83 187.16L751.83 202.9 M750.1 189.84L755.48 189.84 M765.2 183.7L765.2 202.9 M782.4 190.09L782.4 202.9 M782.4 190.32L778.94 190.32C776.44 190.32 775.1 193.3 775.1 196.56C775.1 200.02 776.44 202.71 778.94 202.71L782.4 202.71 M792.92 183.7L792.92 200.02C792.92 201.94 793.88 202.9 795.8 202.9 M791 189.84L795.61 189.84" stroke-width="1.75" fill="none" stroke-linecap="round" stroke-linejoin="round"/>
<circle cx="876.6" cy="269.6" r="1.35" fill="#141414" stroke="none"/>
<path d="M862.97 311.05L859.3 307.72L876.8 307.72 M859.3 293.75L859.3 300.05L867 300.4C865.77 299.35 865.25 298.12 865.25 296.73C865.25 294.27 867.7 292.7 871.02 292.7C874.52 292.7 876.8 294.45 876.8 296.9C876.8 299 875.75 300.23 874 300.75 M863.67 288.47C860.7 288.12 859.3 286.55 859.3 284.8C859.3 282.7 860.7 280.95 863.15 280.95C864.9 280.95 866.3 281.65 867.52 282.35L876.8 288.65L876.8 280.6 M859.3 256.15L859.3 262.45L867 262.8C865.77 261.75 865.25 260.52 865.25 259.12C865.25 256.67 867.7 255.1 871.02 255.1C874.52 255.1 876.8 256.85 876.8 259.3C876.8 261.4 875.75 262.62 874 263.15" stroke-width="1.75" fill="none" stroke-linecap="round" stroke-linejoin="round"/>
<path d="M863.22 244.06L875.38 244.06 M868.54 247L868.54 241.12 M875.38 247L875.38 241.12" stroke-width="1.75" fill="none" stroke-linecap="round" stroke-linejoin="round"/>
<path d="M863.5 230.14L863.5 234.29L869.13 234.52C868.24 233.83 867.85 233.02 867.85 232.1C867.85 230.49 869.64 229.45 872.08 229.45C874.64 229.45 876.3 230.6 876.3 232.22C876.3 233.6 875.53 234.4 874.25 234.75" stroke-width="1.75" fill="none" stroke-linecap="round" stroke-linejoin="round"/>
<path d="M903.1 269.09C900.82 269.66 899.3 271.37 899.3 273.65C899.3 276.69 901.96 278.4 905.76 278.4L911.84 278.4C915.64 278.4 918.3 276.69 918.3 273.65C918.3 271.37 916.78 269.66 914.5 269.09" stroke-width="1.75" fill="none" stroke-linecap="round" stroke-linejoin="round"/>
<g transform="rotate(-0.158 768 608)">
<line x1="306" y1="568.5" x2="1187.5" y2="568.5" stroke-width="2.5" stroke-linecap="butt"/>
<line x1="306" y1="648.1" x2="1187.5" y2="648.1" stroke-width="2.5" stroke-linecap="butt"/>
<line x1="1207.8" y1="568.5" x2="1241.5" y2="568.5" stroke-width="2.5" stroke-linecap="butt"/>
<line x1="1207.8" y1="648.1" x2="1241.5" y2="648.1" stroke-width="2.5" stroke-linecap="butt"/>
<line x1="709.6" y1="568.5" x2="709.6" y2="648.1" stroke-width="1.3" stroke-linecap="butt"/>
<line x1="834.8" y1="568.5" x2="834.8" y2="648.1" stroke-width="1.3" stroke-linecap="butt"/>
<line x1="771.6" y1="559.8" x2="771.6" y2="656.5" stroke-width="1.45" stroke-linecap="butt"/>
<circle cx="771.7" cy="608.3" r="5.5" stroke-width="3.3" fill="none"/>
<line x1="256.6" y1="568.5" x2="306.2" y2="568.5" stroke-width="2.5" stroke-linecap="butt"/>
<line x1="256.6" y1="568.5" x2="256.6" y2="577.7" stroke-width="2.5" stroke-linecap="butt"/>
<path d="M256.6 577.7 L293.7 577.7 C299.7 577.7 303.2 573.56 306.2 568.5" stroke-width="2.5" fill="none"/>
<line x1="260" y1="568.5" x2="260" y2="577.7" stroke-width="1.5" stroke-linecap="butt"/>
<line x1="263.4" y1="568.5" x2="263.4" y2="577.7" stroke-width="1.5" stroke-linecap="butt"/>
<line x1="291.6" y1="568.5" x2="291.6" y2="577.7" stroke-width="1.5" stroke-linecap="butt"/>
<line x1="295.6" y1="568.5" x2="295.6" y2="575.68" stroke-width="1.5" stroke-linecap="butt"/>
<line x1="256.6" y1="648.1" x2="306.2" y2="648.1" stroke-width="2.5" stroke-linecap="butt"/>
<line x1="256.6" y1="648.1" x2="256.6" y2="638.9" stroke-width="2.5" stroke-linecap="butt"/>
<path d="M256.6 638.9 L293.7 638.9 C299.7 638.9 303.2 643.04 306.2 648.1" stroke-width="2.5" fill="none"/>
<line x1="260" y1="648.1" x2="260" y2="638.9" stroke-width="1.5" stroke-linecap="butt"/>
<line x1="263.4" y1="648.1" x2="263.4" y2="638.9" stroke-width="1.5" stroke-linecap="butt"/>
<line x1="291.6" y1="648.1" x2="291.6" y2="638.9" stroke-width="1.5" stroke-linecap="butt"/>
<line x1="295.6" y1="648.1" x2="295.6" y2="640.92" stroke-width="1.5" stroke-linecap="butt"/>
<path d="M256.6 578.2 L244.1 578.2 L244.1 638.4 L256.6 638.4" stroke-width="2.5" fill="none"/>
<line x1="251.3" y1="578.2" x2="251.3" y2="638.4" stroke-width="1.6" stroke-linecap="butt"/>
<line x1="256.6" y1="577.7" x2="256.6" y2="638.9" stroke-width="1.5" stroke-dasharray="9 3.5" stroke-linecap="butt"/>
<line x1="260.6" y1="584.7" x2="260.6" y2="604.8" stroke-width="1.4" stroke-dasharray="8.8 2.4" stroke-linecap="butt"/>
<line x1="260.6" y1="611.8" x2="260.6" y2="631.9" stroke-width="1.4" stroke-dasharray="8.8 2.4" stroke-linecap="butt"/>
<line x1="263.6" y1="584.7" x2="263.6" y2="604.8" stroke-width="1.4" stroke-dasharray="8.8 2.4" stroke-linecap="butt"/>
<line x1="263.6" y1="611.8" x2="263.6" y2="631.9" stroke-width="1.4" stroke-dasharray="8.8 2.4" stroke-linecap="butt"/>
<line x1="292.4" y1="584.7" x2="292.4" y2="604.8" stroke-width="1.4" stroke-dasharray="8.8 2.4" stroke-linecap="butt"/>
<line x1="292.4" y1="611.8" x2="292.4" y2="631.9" stroke-width="1.4" stroke-dasharray="8.8 2.4" stroke-linecap="butt"/>
<line x1="295.8" y1="584.7" x2="295.8" y2="604.8" stroke-width="1.4" stroke-dasharray="8.8 2.4" stroke-linecap="butt"/>
<line x1="295.8" y1="611.8" x2="295.8" y2="631.9" stroke-width="1.4" stroke-dasharray="8.8 2.4" stroke-linecap="butt"/>
<line x1="299.4" y1="584.7" x2="299.4" y2="604.8" stroke-width="1.4" stroke-dasharray="8.8 2.4" stroke-linecap="butt"/>
<line x1="299.4" y1="611.8" x2="299.4" y2="631.9" stroke-width="1.4" stroke-dasharray="8.8 2.4" stroke-linecap="butt"/>
<line x1="277" y1="559" x2="277" y2="657.5" stroke-width="1.45" stroke-linecap="butt"/>
<line x1="1290.2" y1="568.5" x2="1240.6" y2="568.5" stroke-width="2.5" stroke-linecap="butt"/>
<line x1="1290.2" y1="568.5" x2="1290.2" y2="577.7" stroke-width="2.5" stroke-linecap="butt"/>
<path d="M1290.2 577.7 L1253.1 577.7 C1247.1 577.7 1243.6 573.56 1240.6 568.5" stroke-width="2.5" fill="none"/>
<line x1="1286.8" y1="568.5" x2="1286.8" y2="577.7" stroke-width="1.5" stroke-linecap="butt"/>
<line x1="1283.4" y1="568.5" x2="1283.4" y2="577.7" stroke-width="1.5" stroke-linecap="butt"/>
<line x1="1255.2" y1="568.5" x2="1255.2" y2="577.7" stroke-width="1.5" stroke-linecap="butt"/>
<line x1="1251.2" y1="568.5" x2="1251.2" y2="575.68" stroke-width="1.5" stroke-linecap="butt"/>
<line x1="1290.2" y1="648.1" x2="1240.6" y2="648.1" stroke-width="2.5" stroke-linecap="butt"/>
<line x1="1290.2" y1="648.1" x2="1290.2" y2="638.9" stroke-width="2.5" stroke-linecap="butt"/>
<path d="M1290.2 638.9 L1253.1 638.9 C1247.1 638.9 1243.6 643.04 1240.6 648.1" stroke-width="2.5" fill="none"/>
<line x1="1286.8" y1="648.1" x2="1286.8" y2="638.9" stroke-width="1.5" stroke-linecap="butt"/>
<line x1="1283.4" y1="648.1" x2="1283.4" y2="638.9" stroke-width="1.5" stroke-linecap="butt"/>
<line x1="1255.2" y1="648.1" x2="1255.2" y2="638.9" stroke-width="1.5" stroke-linecap="butt"/>
<line x1="1251.2" y1="648.1" x2="1251.2" y2="640.92" stroke-width="1.5" stroke-linecap="butt"/>
<path d="M1290.2 578.2 L1302.7 578.2 L1302.7 638.4 L1290.2 638.4" stroke-width="2.5" fill="none"/>
<line x1="1297.4" y1="578.2" x2="1297.4" y2="638.4" stroke-width="1.6" stroke-linecap="butt"/>
<line x1="1290.2" y1="577.7" x2="1290.2" y2="638.9" stroke-width="1.5" stroke-dasharray="9 3.5" stroke-linecap="butt"/>
<line x1="1286.2" y1="584.7" x2="1286.2" y2="604.8" stroke-width="1.4" stroke-dasharray="8.8 2.4" stroke-linecap="butt"/>
<line x1="1286.2" y1="611.8" x2="1286.2" y2="631.9" stroke-width="1.4" stroke-dasharray="8.8 2.4" stroke-linecap="butt"/>
<line x1="1283.2" y1="584.7" x2="1283.2" y2="604.8" stroke-width="1.4" stroke-dasharray="8.8 2.4" stroke-linecap="butt"/>
<line x1="1283.2" y1="611.8" x2="1283.2" y2="631.9" stroke-width="1.4" stroke-dasharray="8.8 2.4" stroke-linecap="butt"/>
<line x1="1254.4" y1="584.7" x2="1254.4" y2="604.8" stroke-width="1.4" stroke-dasharray="8.8 2.4" stroke-linecap="butt"/>
<line x1="1254.4" y1="611.8" x2="1254.4" y2="631.9" stroke-width="1.4" stroke-dasharray="8.8 2.4" stroke-linecap="butt"/>
<line x1="1251" y1="584.7" x2="1251" y2="604.8" stroke-width="1.4" stroke-dasharray="8.8 2.4" stroke-linecap="butt"/>
<line x1="1251" y1="611.8" x2="1251" y2="631.9" stroke-width="1.4" stroke-dasharray="8.8 2.4" stroke-linecap="butt"/>
<line x1="1247.4" y1="584.7" x2="1247.4" y2="604.8" stroke-width="1.4" stroke-dasharray="8.8 2.4" stroke-linecap="butt"/>
<line x1="1247.4" y1="611.8" x2="1247.4" y2="631.9" stroke-width="1.4" stroke-dasharray="8.8 2.4" stroke-linecap="butt"/>
<line x1="1267.8" y1="559" x2="1267.8" y2="657.5" stroke-width="1.45" stroke-linecap="butt"/>
<line x1="230.9" y1="608.3" x2="303.8" y2="608.3" stroke-width="1.45" stroke-linecap="butt"/>
<line x1="313" y1="608.3" x2="331.2" y2="608.3" stroke-width="1.45" stroke-linecap="butt"/>
<line x1="342.1" y1="608.3" x2="480.7" y2="608.3" stroke-width="1.45" stroke-linecap="butt"/>
<line x1="491.6" y1="608.3" x2="511.6" y2="608.3" stroke-width="1.45" stroke-linecap="butt"/>
<line x1="520.8" y1="608.3" x2="661.1" y2="608.3" stroke-width="1.45" stroke-linecap="butt"/>
<line x1="672" y1="608.3" x2="692.1" y2="608.3" stroke-width="1.45" stroke-linecap="butt"/>
<line x1="701.2" y1="608.3" x2="842" y2="608.3" stroke-width="1.45" stroke-linecap="butt"/>
<line x1="851.1" y1="608.3" x2="871.2" y2="608.3" stroke-width="1.45" stroke-linecap="butt"/>
<line x1="882.1" y1="608.3" x2="1022.5" y2="608.3" stroke-width="1.45" stroke-linecap="butt"/>
<line x1="1031.6" y1="608.3" x2="1051.6" y2="608.3" stroke-width="1.45" stroke-linecap="butt"/>
<line x1="1062.6" y1="608.3" x2="1188.4" y2="608.3" stroke-width="1.45" stroke-linecap="butt"/>
<line x1="1212" y1="608.3" x2="1230.3" y2="608.3" stroke-width="1.45" stroke-linecap="butt"/>
<line x1="1241.2" y1="608.3" x2="1314.1" y2="608.3" stroke-width="1.45" stroke-linecap="butt"/>
<path d="M1188.3 568.5 L1188.3 562.4 L1207.6 562.4 L1207.6 654.3 L1188.3 654.3 L1188.3 648.1" stroke-width="1.6" fill="none"/>
<line x1="1188.1" y1="568.5" x2="1188.1" y2="648.1" stroke-width="3.2" stroke-linecap="butt"/>
<line x1="1198" y1="553.9" x2="1198" y2="662.3" stroke-width="1.45" stroke-linecap="butt"/>
<circle cx="1198" cy="608.3" r="4.9" stroke-width="1.5" fill="#fff"/>
<line x1="1193" y1="608.3" x2="1203" y2="608.3" stroke-width="1.1" stroke-linecap="butt"/>
<line x1="1198" y1="603.3" x2="1198" y2="613.3" stroke-width="1.1" stroke-linecap="butt"/>
<path d="M1188.3 562.4 L1171 562.4 Q1168.2 564.9 1171 567.4 L1188.3 567.4" stroke-width="1.5" fill="none"/>
<path d="M1174.6 562.4 L1174.6 558 Q1174.6 556.4 1176.4 556.4 L1186 556.4 Q1187.8 556.4 1187.8 558 L1187.8 562.4" stroke-width="1.5" fill="none"/>
<line x1="1177.2" y1="562.4" x2="1177.2" y2="557" stroke-width="1.2" stroke-linecap="butt"/>
<line x1="1185.4" y1="562.4" x2="1185.4" y2="557" stroke-width="1.2" stroke-linecap="butt"/>
<path d="M1188.3 654.2 L1171 654.2 Q1168.2 651.7 1171 649.2 L1188.3 649.2" stroke-width="1.5" fill="none"/>
<path d="M1174.6 654.2 L1174.6 658.6 Q1174.6 660.2 1176.4 660.2 L1186 660.2 Q1187.8 660.2 1187.8 658.6 L1187.8 654.2" stroke-width="1.5" fill="none"/>
<line x1="1177.2" y1="654.2" x2="1177.2" y2="659.6" stroke-width="1.2" stroke-linecap="butt"/>
<line x1="1185.4" y1="654.2" x2="1185.4" y2="659.6" stroke-width="1.2" stroke-linecap="butt"/>
</g>
</g></svg>
</body></html>
